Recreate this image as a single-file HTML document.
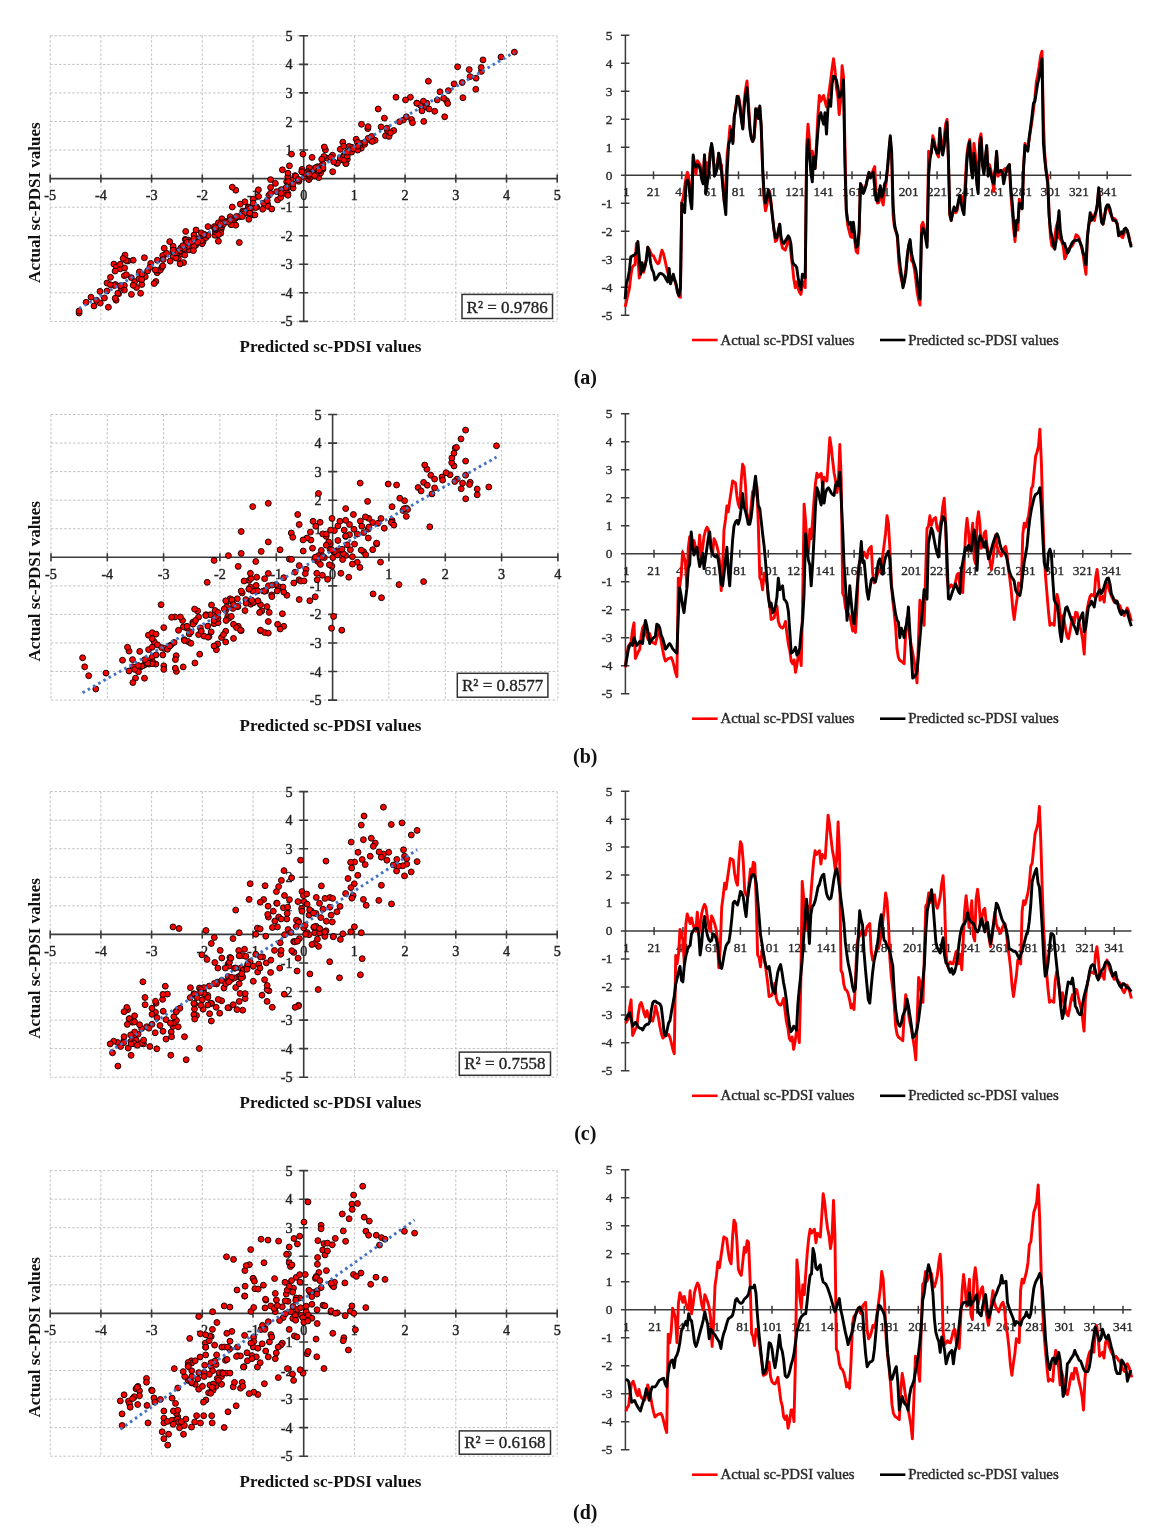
<!DOCTYPE html>
<html><head><meta charset="utf-8"><title>sc-PDSI figure</title>
<style>
html,body{margin:0;padding:0;background:#fff;}
body{width:1159px;height:1534px;overflow:hidden;}
svg{display:block;filter:blur(0.6px);}
text{font-family:'Liberation Serif','Times New Roman',serif;fill:#222;}
.tl{font-size:14.2px;stroke:#222;stroke-width:0.4px;}
.tr{font-size:13.3px;fill:#2a2a2a;stroke:#2a2a2a;stroke-width:0.35px;}
.r2{font-size:17px;stroke:#222;stroke-width:0.35px;}
.at{font-size:17px;font-weight:bold;fill:#111;}
.lg{font-size:14.8px;fill:#2a2a2a;stroke:#2a2a2a;stroke-width:0.4px;}
.pl{font-size:20px;font-weight:bold;fill:#111;}
</style></head><body>
<svg width="1159" height="1534" viewBox="0 0 1159 1534">
<rect width="1159" height="1534" fill="#fff"/>
<path d="M50.2 35.8V321.4M100.9 35.8V321.4M151.6 35.8V321.4M202.3 35.8V321.4M253.0 35.8V321.4M354.4 35.8V321.4M405.1 35.8V321.4M455.8 35.8V321.4M506.5 35.8V321.4M557.2 35.8V321.4M50.2 321.4H557.2M50.2 292.8H557.2M50.2 264.3H557.2M50.2 235.7H557.2M50.2 207.2H557.2M50.2 150.0H557.2M50.2 121.5H557.2M50.2 92.9H557.2M50.2 64.4H557.2M50.2 35.8H557.2" stroke="#c2c2c2" stroke-width="1" stroke-dasharray="2.5 1.9" fill="none"/>
<path d="M50.2 178.6H557.2M303.7 35.8V321.4M50.2 174.6V182.6M100.9 174.6V182.6M151.6 174.6V182.6M202.3 174.6V182.6M253.0 174.6V182.6M303.7 174.6V182.6M354.4 174.6V182.6M405.1 174.6V182.6M455.8 174.6V182.6M506.5 174.6V182.6M557.2 174.6V182.6M299.2 321.4H308.2M299.2 292.8H308.2M299.2 264.3H308.2M299.2 235.7H308.2M299.2 207.2H308.2M299.2 178.6H308.2M299.2 150.0H308.2M299.2 121.5H308.2M299.2 92.9H308.2M299.2 64.4H308.2M299.2 35.8H308.2" stroke="#3a3a3a" stroke-width="1.6" fill="none"/>
<text x="50.2" y="200.3" text-anchor="middle" class="tl">-5</text>
<text x="100.9" y="200.3" text-anchor="middle" class="tl">-4</text>
<text x="151.6" y="200.3" text-anchor="middle" class="tl">-3</text>
<text x="202.3" y="200.3" text-anchor="middle" class="tl">-2</text>
<text x="253.0" y="200.3" text-anchor="middle" class="tl">-1</text>
<text x="303.7" y="200.3" text-anchor="middle" class="tl">0</text>
<text x="354.4" y="200.3" text-anchor="middle" class="tl">1</text>
<text x="405.1" y="200.3" text-anchor="middle" class="tl">2</text>
<text x="455.8" y="200.3" text-anchor="middle" class="tl">3</text>
<text x="506.5" y="200.3" text-anchor="middle" class="tl">4</text>
<text x="557.2" y="200.3" text-anchor="middle" class="tl">5</text>
<text x="292.7" y="326.4" text-anchor="end" class="tl">-5</text>
<text x="292.7" y="297.8" text-anchor="end" class="tl">-4</text>
<text x="292.7" y="269.3" text-anchor="end" class="tl">-3</text>
<text x="292.7" y="240.7" text-anchor="end" class="tl">-2</text>
<text x="292.7" y="212.2" text-anchor="end" class="tl">-1</text>
<text x="292.7" y="155.0" text-anchor="end" class="tl">1</text>
<text x="292.7" y="126.5" text-anchor="end" class="tl">2</text>
<text x="292.7" y="97.9" text-anchor="end" class="tl">3</text>
<text x="292.7" y="69.4" text-anchor="end" class="tl">4</text>
<text x="292.7" y="40.8" text-anchor="end" class="tl">5</text>
<g fill="#ff0000" stroke="#100000" stroke-width="0.95"><circle cx="79.1" cy="313.0" r="2.95"/><circle cx="108.4" cy="307.2" r="2.95"/><circle cx="116.1" cy="300.2" r="2.95"/><circle cx="131.4" cy="294.4" r="2.95"/><circle cx="155.9" cy="281.5" r="2.95"/><circle cx="157.2" cy="272.7" r="2.95"/><circle cx="158.5" cy="270.7" r="2.95"/><circle cx="160.3" cy="270.0" r="2.95"/><circle cx="164.2" cy="248.2" r="2.95"/><circle cx="183.6" cy="262.6" r="2.95"/><circle cx="154.1" cy="283.5" r="2.95"/><circle cx="124.4" cy="275.7" r="2.95"/><circle cx="145.3" cy="276.7" r="2.95"/><circle cx="131.3" cy="277.6" r="2.95"/><circle cx="139.4" cy="271.9" r="2.95"/><circle cx="150.7" cy="263.4" r="2.95"/><circle cx="173.1" cy="252.1" r="2.95"/><circle cx="165.4" cy="254.3" r="2.95"/><circle cx="144.4" cy="257.7" r="2.95"/><circle cx="133.2" cy="260.2" r="2.95"/><circle cx="127.9" cy="260.9" r="2.95"/><circle cx="113.9" cy="264.1" r="2.95"/><circle cx="116.3" cy="267.0" r="2.95"/><circle cx="120.3" cy="268.8" r="2.95"/><circle cx="124.6" cy="268.0" r="2.95"/><circle cx="126.1" cy="260.4" r="2.95"/><circle cx="125.0" cy="255.1" r="2.95"/><circle cx="123.1" cy="258.5" r="2.95"/><circle cx="120.2" cy="264.3" r="2.95"/><circle cx="115.1" cy="271.1" r="2.95"/><circle cx="110.5" cy="277.3" r="2.95"/><circle cx="134.8" cy="281.6" r="2.95"/><circle cx="107.0" cy="283.0" r="2.95"/><circle cx="115.4" cy="284.5" r="2.95"/><circle cx="124.4" cy="285.5" r="2.95"/><circle cx="114.4" cy="285.5" r="2.95"/><circle cx="107.0" cy="291.0" r="2.95"/><circle cx="91.0" cy="297.2" r="2.95"/><circle cx="86.1" cy="302.3" r="2.95"/><circle cx="100.3" cy="303.1" r="2.95"/><circle cx="253.2" cy="206.2" r="2.95"/><circle cx="244.9" cy="201.8" r="2.95"/><circle cx="235.8" cy="190.2" r="2.95"/><circle cx="291.2" cy="180.0" r="2.95"/><circle cx="295.0" cy="175.6" r="2.95"/><circle cx="286.7" cy="181.8" r="2.95"/><circle cx="258.4" cy="189.8" r="2.95"/><circle cx="242.8" cy="211.0" r="2.95"/><circle cx="340.3" cy="160.0" r="2.95"/><circle cx="322.9" cy="169.2" r="2.95"/><circle cx="318.7" cy="177.6" r="2.95"/><circle cx="322.9" cy="163.9" r="2.95"/><circle cx="321.1" cy="165.8" r="2.95"/><circle cx="313.7" cy="168.7" r="2.95"/><circle cx="295.8" cy="176.2" r="2.95"/><circle cx="288.0" cy="183.5" r="2.95"/><circle cx="340.3" cy="158.0" r="2.95"/><circle cx="270.6" cy="179.6" r="2.95"/><circle cx="289.4" cy="165.8" r="2.95"/><circle cx="307.3" cy="171.7" r="2.95"/><circle cx="344.4" cy="155.0" r="2.95"/><circle cx="361.2" cy="148.2" r="2.95"/><circle cx="346.1" cy="163.5" r="2.95"/><circle cx="302.0" cy="169.4" r="2.95"/><circle cx="307.6" cy="171.7" r="2.95"/><circle cx="317.0" cy="166.9" r="2.95"/><circle cx="343.8" cy="156.0" r="2.95"/><circle cx="332.7" cy="171.7" r="2.95"/><circle cx="309.2" cy="167.8" r="2.95"/><circle cx="282.1" cy="189.9" r="2.95"/><circle cx="253.2" cy="207.0" r="2.95"/><circle cx="232.3" cy="187.2" r="2.95"/><circle cx="312.1" cy="157.4" r="2.95"/><circle cx="358.9" cy="145.3" r="2.95"/><circle cx="367.8" cy="128.6" r="2.95"/><circle cx="385.5" cy="135.7" r="2.95"/><circle cx="361.2" cy="144.3" r="2.95"/><circle cx="411.6" cy="119.5" r="2.95"/><circle cx="422.1" cy="109.4" r="2.95"/><circle cx="446.5" cy="100.6" r="2.95"/><circle cx="443.7" cy="98.2" r="2.95"/><circle cx="425.8" cy="106.6" r="2.95"/><circle cx="403.3" cy="120.1" r="2.95"/><circle cx="387.3" cy="130.5" r="2.95"/><circle cx="426.9" cy="103.3" r="2.95"/><circle cx="448.4" cy="90.6" r="2.95"/><circle cx="462.2" cy="82.5" r="2.95"/><circle cx="420.3" cy="105.1" r="2.95"/><circle cx="386.9" cy="128.2" r="2.95"/><circle cx="370.9" cy="140.2" r="2.95"/><circle cx="364.7" cy="144.3" r="2.95"/><circle cx="371.2" cy="140.5" r="2.95"/><circle cx="423.8" cy="121.4" r="2.95"/><circle cx="422.0" cy="110.8" r="2.95"/><circle cx="406.4" cy="116.8" r="2.95"/><circle cx="429.1" cy="109.0" r="2.95"/><circle cx="393.8" cy="130.5" r="2.95"/><circle cx="320.5" cy="173.1" r="2.95"/><circle cx="267.5" cy="203.8" r="2.95"/><circle cx="253.2" cy="214.9" r="2.95"/><circle cx="262.7" cy="209.2" r="2.95"/><circle cx="277.6" cy="199.9" r="2.95"/><circle cx="268.9" cy="195.3" r="2.95"/><circle cx="248.3" cy="207.0" r="2.95"/><circle cx="225.9" cy="221.5" r="2.95"/><circle cx="204.3" cy="234.4" r="2.95"/><circle cx="190.5" cy="246.3" r="2.95"/><circle cx="190.5" cy="244.8" r="2.95"/><circle cx="202.5" cy="237.9" r="2.95"/><circle cx="214.9" cy="228.6" r="2.95"/><circle cx="191.1" cy="246.5" r="2.95"/><circle cx="182.2" cy="252.9" r="2.95"/><circle cx="180.1" cy="254.0" r="2.95"/><circle cx="184.8" cy="255.1" r="2.95"/><circle cx="189.0" cy="249.9" r="2.95"/><circle cx="194.0" cy="242.3" r="2.95"/><circle cx="190.0" cy="245.8" r="2.95"/><circle cx="178.4" cy="258.5" r="2.95"/><circle cx="147.6" cy="270.9" r="2.95"/><circle cx="141.8" cy="284.5" r="2.95"/><circle cx="140.6" cy="293.3" r="2.95"/><circle cx="136.5" cy="287.5" r="2.95"/><circle cx="118.6" cy="293.8" r="2.95"/><circle cx="104.4" cy="298.0" r="2.95"/><circle cx="96.5" cy="300.2" r="2.95"/><circle cx="124.4" cy="290.1" r="2.95"/><circle cx="120.9" cy="287.5" r="2.95"/><circle cx="117.8" cy="293.3" r="2.95"/><circle cx="325.4" cy="149.9" r="2.95"/><circle cx="368.1" cy="126.6" r="2.95"/><circle cx="342.8" cy="142.2" r="2.95"/><circle cx="308.1" cy="171.7" r="2.95"/><circle cx="291.5" cy="154.1" r="2.95"/><circle cx="336.8" cy="163.4" r="2.95"/><circle cx="315.9" cy="171.7" r="2.95"/><circle cx="349.1" cy="146.4" r="2.95"/><circle cx="384.4" cy="118.1" r="2.95"/><circle cx="410.4" cy="97.2" r="2.95"/><circle cx="416.9" cy="103.1" r="2.95"/><circle cx="405.5" cy="99.9" r="2.95"/><circle cx="396.0" cy="97.2" r="2.95"/><circle cx="416.9" cy="103.2" r="2.95"/><circle cx="378.2" cy="109.0" r="2.95"/><circle cx="423.4" cy="101.2" r="2.95"/><circle cx="440.0" cy="91.8" r="2.95"/><circle cx="428.4" cy="81.2" r="2.95"/><circle cx="469.2" cy="69.6" r="2.95"/><circle cx="483.0" cy="59.9" r="2.95"/><circle cx="481.4" cy="71.4" r="2.95"/><circle cx="475.8" cy="89.3" r="2.95"/><circle cx="462.9" cy="97.7" r="2.95"/><circle cx="444.7" cy="116.8" r="2.95"/><circle cx="447.7" cy="103.5" r="2.95"/><circle cx="457.6" cy="66.8" r="2.95"/><circle cx="476.1" cy="78.2" r="2.95"/><circle cx="324.3" cy="147.0" r="2.95"/><circle cx="241.3" cy="215.2" r="2.95"/><circle cx="221.1" cy="229.5" r="2.95"/><circle cx="214.9" cy="235.3" r="2.95"/><circle cx="218.4" cy="241.2" r="2.95"/><circle cx="201.0" cy="242.2" r="2.95"/><circle cx="218.4" cy="234.5" r="2.95"/><circle cx="195.6" cy="245.4" r="2.95"/><circle cx="173.1" cy="256.5" r="2.95"/><circle cx="176.0" cy="258.0" r="2.95"/><circle cx="203.6" cy="237.8" r="2.95"/><circle cx="288.0" cy="187.4" r="2.95"/><circle cx="281.2" cy="189.7" r="2.95"/><circle cx="270.6" cy="193.3" r="2.95"/><circle cx="276.7" cy="191.6" r="2.95"/><circle cx="286.0" cy="187.8" r="2.95"/><circle cx="298.9" cy="181.3" r="2.95"/><circle cx="308.9" cy="175.6" r="2.95"/><circle cx="298.5" cy="179.6" r="2.95"/><circle cx="304.3" cy="177.4" r="2.95"/><circle cx="308.9" cy="173.2" r="2.95"/><circle cx="282.4" cy="169.8" r="2.95"/><circle cx="258.6" cy="196.4" r="2.95"/><circle cx="256.7" cy="207.0" r="2.95"/><circle cx="268.0" cy="206.4" r="2.95"/><circle cx="284.6" cy="193.3" r="2.95"/><circle cx="263.7" cy="203.2" r="2.95"/><circle cx="271.8" cy="209.0" r="2.95"/><circle cx="287.8" cy="193.5" r="2.95"/><circle cx="293.1" cy="188.0" r="2.95"/><circle cx="316.0" cy="174.4" r="2.95"/><circle cx="347.3" cy="159.2" r="2.95"/><circle cx="375.1" cy="140.3" r="2.95"/><circle cx="345.7" cy="163.5" r="2.95"/><circle cx="248.8" cy="219.3" r="2.95"/><circle cx="215.4" cy="231.8" r="2.95"/><circle cx="203.1" cy="236.0" r="2.95"/><circle cx="195.3" cy="242.6" r="2.95"/><circle cx="161.9" cy="267.2" r="2.95"/><circle cx="139.0" cy="278.8" r="2.95"/><circle cx="120.6" cy="285.6" r="2.95"/><circle cx="100.0" cy="291.4" r="2.95"/><circle cx="110.4" cy="284.7" r="2.95"/><circle cx="126.4" cy="274.7" r="2.95"/><circle cx="157.3" cy="260.3" r="2.95"/><circle cx="177.1" cy="250.9" r="2.95"/><circle cx="187.1" cy="246.3" r="2.95"/><circle cx="162.7" cy="265.9" r="2.95"/><circle cx="149.9" cy="267.3" r="2.95"/><circle cx="142.0" cy="274.3" r="2.95"/><circle cx="133.2" cy="285.3" r="2.95"/><circle cx="115.2" cy="298.3" r="2.95"/><circle cx="94.0" cy="306.0" r="2.95"/><circle cx="79.1" cy="311.0" r="2.95"/><circle cx="196.1" cy="230.0" r="2.95"/><circle cx="208.0" cy="226.6" r="2.95"/><circle cx="201.3" cy="232.9" r="2.95"/><circle cx="188.4" cy="240.1" r="2.95"/><circle cx="173.1" cy="246.3" r="2.95"/><circle cx="302.9" cy="154.1" r="2.95"/><circle cx="332.5" cy="155.2" r="2.95"/><circle cx="346.9" cy="156.0" r="2.95"/><circle cx="368.1" cy="138.4" r="2.95"/><circle cx="359.8" cy="143.1" r="2.95"/><circle cx="350.3" cy="150.5" r="2.95"/><circle cx="343.8" cy="157.1" r="2.95"/><circle cx="344.2" cy="160.0" r="2.95"/><circle cx="389.0" cy="136.4" r="2.95"/><circle cx="351.6" cy="152.1" r="2.95"/><circle cx="340.3" cy="149.3" r="2.95"/><circle cx="356.2" cy="139.2" r="2.95"/><circle cx="381.1" cy="126.9" r="2.95"/><circle cx="399.5" cy="121.7" r="2.95"/><circle cx="337.3" cy="163.2" r="2.95"/><circle cx="234.3" cy="219.4" r="2.95"/><circle cx="221.9" cy="224.7" r="2.95"/><circle cx="236.1" cy="217.8" r="2.95"/><circle cx="246.3" cy="212.9" r="2.95"/><circle cx="239.3" cy="216.8" r="2.95"/><circle cx="242.1" cy="215.3" r="2.95"/><circle cx="255.7" cy="207.6" r="2.95"/><circle cx="267.2" cy="200.6" r="2.95"/><circle cx="253.1" cy="199.2" r="2.95"/><circle cx="240.3" cy="204.1" r="2.95"/><circle cx="232.3" cy="207.0" r="2.95"/><circle cx="275.4" cy="183.4" r="2.95"/><circle cx="326.7" cy="158.0" r="2.95"/><circle cx="351.8" cy="147.3" r="2.95"/><circle cx="364.7" cy="142.3" r="2.95"/><circle cx="317.5" cy="167.0" r="2.95"/><circle cx="298.5" cy="179.6" r="2.95"/><circle cx="343.8" cy="146.2" r="2.95"/><circle cx="323.9" cy="156.5" r="2.95"/><circle cx="287.8" cy="176.7" r="2.95"/><circle cx="270.6" cy="187.4" r="2.95"/><circle cx="357.4" cy="142.4" r="2.95"/><circle cx="371.6" cy="136.4" r="2.95"/><circle cx="321.7" cy="159.2" r="2.95"/><circle cx="305.5" cy="175.6" r="2.95"/><circle cx="333.7" cy="161.8" r="2.95"/><circle cx="357.7" cy="150.1" r="2.95"/><circle cx="302.0" cy="171.7" r="2.95"/><circle cx="315.9" cy="167.8" r="2.95"/><circle cx="305.6" cy="173.6" r="2.95"/><circle cx="293.0" cy="184.0" r="2.95"/><circle cx="288.0" cy="195.3" r="2.95"/><circle cx="313.2" cy="174.0" r="2.95"/><circle cx="347.2" cy="156.0" r="2.95"/><circle cx="308.9" cy="179.6" r="2.95"/><circle cx="310.4" cy="177.1" r="2.95"/><circle cx="312.4" cy="173.7" r="2.95"/><circle cx="309.3" cy="175.6" r="2.95"/><circle cx="288.0" cy="173.2" r="2.95"/><circle cx="301.8" cy="171.7" r="2.95"/><circle cx="314.5" cy="175.6" r="2.95"/><circle cx="319.7" cy="170.6" r="2.95"/><circle cx="322.9" cy="167.8" r="2.95"/><circle cx="280.6" cy="197.6" r="2.95"/><circle cx="254.9" cy="214.9" r="2.95"/><circle cx="220.7" cy="233.2" r="2.95"/><circle cx="194.0" cy="246.3" r="2.95"/><circle cx="221.9" cy="226.6" r="2.95"/><circle cx="218.4" cy="234.5" r="2.95"/><circle cx="253.2" cy="203.1" r="2.95"/><circle cx="248.3" cy="207.8" r="2.95"/><circle cx="242.8" cy="212.9" r="2.95"/><circle cx="318.9" cy="170.1" r="2.95"/><circle cx="357.7" cy="146.2" r="2.95"/><circle cx="353.2" cy="148.7" r="2.95"/><circle cx="347.2" cy="152.1" r="2.95"/><circle cx="372.3" cy="141.5" r="2.95"/><circle cx="390.6" cy="132.8" r="2.95"/><circle cx="412.5" cy="122.7" r="2.95"/><circle cx="434.7" cy="111.3" r="2.95"/><circle cx="437.3" cy="99.9" r="2.95"/><circle cx="454.1" cy="83.9" r="2.95"/><circle cx="470.1" cy="76.6" r="2.95"/><circle cx="481.2" cy="67.5" r="2.95"/><circle cx="501.0" cy="57.0" r="2.95"/><circle cx="514.4" cy="52.1" r="2.95"/><circle cx="361.5" cy="124.3" r="2.95"/><circle cx="330.8" cy="157.3" r="2.95"/><circle cx="309.0" cy="174.2" r="2.95"/><circle cx="288.5" cy="181.4" r="2.95"/><circle cx="230.2" cy="216.8" r="2.95"/><circle cx="203.1" cy="241.7" r="2.95"/><circle cx="193.4" cy="250.6" r="2.95"/><circle cx="178.0" cy="252.1" r="2.95"/><circle cx="169.7" cy="241.6" r="2.95"/><circle cx="185.7" cy="231.4" r="2.95"/><circle cx="214.3" cy="226.6" r="2.95"/><circle cx="239.3" cy="242.5" r="2.95"/><circle cx="202.1" cy="243.7" r="2.95"/><circle cx="187.5" cy="246.4" r="2.95"/><circle cx="180.1" cy="251.3" r="2.95"/><circle cx="180.1" cy="263.9" r="2.95"/><circle cx="170.2" cy="261.1" r="2.95"/><circle cx="162.7" cy="255.6" r="2.95"/><circle cx="166.6" cy="253.3" r="2.95"/><circle cx="174.3" cy="252.2" r="2.95"/><circle cx="180.2" cy="251.0" r="2.95"/><circle cx="184.0" cy="248.8" r="2.95"/><circle cx="185.2" cy="244.9" r="2.95"/><circle cx="185.3" cy="239.4" r="2.95"/><circle cx="186.0" cy="240.1" r="2.95"/><circle cx="187.1" cy="242.2" r="2.95"/><circle cx="180.9" cy="247.9" r="2.95"/><circle cx="175.0" cy="252.9" r="2.95"/><circle cx="163.2" cy="259.5" r="2.95"/><circle cx="155.3" cy="270.0" r="2.95"/><circle cx="141.8" cy="279.6" r="2.95"/><circle cx="191.6" cy="241.7" r="2.95"/><circle cx="215.5" cy="229.6" r="2.95"/><circle cx="235.8" cy="225.2" r="2.95"/><circle cx="221.9" cy="218.8" r="2.95"/><circle cx="225.9" cy="222.2" r="2.95"/><circle cx="231.1" cy="224.7" r="2.95"/><circle cx="236.6" cy="216.4" r="2.95"/><circle cx="250.9" cy="208.6" r="2.95"/><circle cx="281.1" cy="193.3" r="2.95"/><circle cx="243.9" cy="212.0" r="2.95"/><circle cx="218.4" cy="222.8" r="2.95"/><circle cx="214.9" cy="228.6" r="2.95"/><circle cx="228.3" cy="222.0" r="2.95"/><circle cx="244.3" cy="213.6" r="2.95"/><circle cx="249.4" cy="209.0" r="2.95"/><circle cx="249.7" cy="213.1" r="2.95"/><circle cx="242.3" cy="216.6" r="2.95"/><circle cx="230.6" cy="219.8" r="2.95"/><circle cx="222.9" cy="224.7" r="2.95"/><circle cx="221.9" cy="222.7" r="2.95"/><circle cx="220.6" cy="224.2" r="2.95"/><circle cx="215.6" cy="227.8" r="2.95"/><circle cx="194.0" cy="235.0" r="2.95"/><circle cx="198.1" cy="238.8" r="2.95"/><circle cx="201.0" cy="241.0" r="2.95"/><circle cx="197.5" cy="242.3" r="2.95"/><circle cx="205.9" cy="237.6" r="2.95"/><circle cx="208.0" cy="235.4" r="2.95"/><circle cx="204.1" cy="234.5" r="2.95"/><circle cx="193.8" cy="238.6" r="2.95"/><circle cx="182.8" cy="245.8" r="2.95"/><circle cx="173.1" cy="250.2" r="2.95"/></g>
<line x1="79.1" y1="308.6" x2="514.4" y2="52.3" stroke="#4472c4" stroke-width="2.9" stroke-dasharray="2.6 3.4" stroke-linecap="butt"/>
<rect x="462.0" y="294.4" width="90.5" height="24.1" fill="#fff" stroke="#333" stroke-width="1.5"/>
<text x="507.2" y="312.5" text-anchor="middle" class="r2">R² = 0.9786</text>
<text x="330.5" y="352.1" text-anchor="middle" class="at">Predicted sc-PDSI values</text>
<text transform="translate(40.2 202.6) rotate(-90)" text-anchor="middle" class="at">Actual sc-PDSI values</text>
<path d="M625.4 35.2V315.2M625.4 175.2H1131.5M620.9 315.2H629.4M620.9 287.2H629.4M620.9 259.2H629.4M620.9 231.2H629.4M620.9 203.2H629.4M620.9 175.2H629.4M620.9 147.2H629.4M620.9 119.2H629.4M620.9 91.2H629.4M620.9 63.2H629.4M620.9 35.2H629.4M653.5 171.2V179.2M681.8 171.2V179.2M710.2 171.2V179.2M738.5 171.2V179.2M766.9 171.2V179.2M795.3 171.2V179.2M823.6 171.2V179.2M852.0 171.2V179.2M880.3 171.2V179.2M908.7 171.2V179.2M937.1 171.2V179.2M965.4 171.2V179.2M993.8 171.2V179.2M1022.1 171.2V179.2M1050.5 171.2V179.2M1078.9 171.2V179.2M1107.2 171.2V179.2" stroke="#3a3a3a" stroke-width="1.5" fill="none"/>
<text x="612.5" y="319.5" text-anchor="end" class="tr">-5</text>
<text x="612.5" y="291.5" text-anchor="end" class="tr">-4</text>
<text x="612.5" y="263.5" text-anchor="end" class="tr">-3</text>
<text x="612.5" y="235.5" text-anchor="end" class="tr">-2</text>
<text x="612.5" y="207.5" text-anchor="end" class="tr">-1</text>
<text x="612.5" y="179.5" text-anchor="end" class="tr">0</text>
<text x="612.5" y="151.5" text-anchor="end" class="tr">1</text>
<text x="612.5" y="123.5" text-anchor="end" class="tr">2</text>
<text x="612.5" y="95.5" text-anchor="end" class="tr">3</text>
<text x="612.5" y="67.5" text-anchor="end" class="tr">4</text>
<text x="612.5" y="39.5" text-anchor="end" class="tr">5</text>
<text x="626.4" y="196.0" text-anchor="middle" class="tr">1</text>
<text x="653.5" y="196.0" text-anchor="middle" class="tr">21</text>
<text x="681.8" y="196.0" text-anchor="middle" class="tr">41</text>
<text x="710.2" y="196.0" text-anchor="middle" class="tr">61</text>
<text x="738.5" y="196.0" text-anchor="middle" class="tr">81</text>
<text x="766.9" y="196.0" text-anchor="middle" class="tr">101</text>
<text x="795.3" y="196.0" text-anchor="middle" class="tr">121</text>
<text x="823.6" y="196.0" text-anchor="middle" class="tr">141</text>
<text x="852.0" y="196.0" text-anchor="middle" class="tr">161</text>
<text x="880.3" y="196.0" text-anchor="middle" class="tr">181</text>
<text x="908.7" y="196.0" text-anchor="middle" class="tr">201</text>
<text x="937.1" y="196.0" text-anchor="middle" class="tr">221</text>
<text x="965.4" y="196.0" text-anchor="middle" class="tr">241</text>
<text x="993.8" y="196.0" text-anchor="middle" class="tr">261</text>
<text x="1022.1" y="196.0" text-anchor="middle" class="tr">281</text>
<text x="1050.5" y="196.0" text-anchor="middle" class="tr">301</text>
<text x="1078.9" y="196.0" text-anchor="middle" class="tr">321</text>
<text x="1107.2" y="196.0" text-anchor="middle" class="tr">341</text>
<polyline points="625.1,306.9 626.5,301.3 627.9,294.4 629.4,288.7 630.8,276.1 632.2,267.5 633.6,265.5 635.0,264.8 636.4,243.5 637.9,257.5 639.3,278.1 640.7,270.4 642.1,271.3 643.5,272.3 645.0,266.7 646.4,258.3 647.8,247.3 649.2,249.4 650.6,252.8 652.0,255.2 653.5,255.9 654.9,259.0 656.3,261.8 657.7,263.7 659.1,262.8 660.6,255.4 662.0,250.2 663.4,253.5 664.8,259.2 666.2,265.9 667.6,272.0 669.1,276.2 670.5,277.6 671.9,279.0 673.3,280.0 674.7,280.0 676.1,285.4 677.6,291.5 679.0,296.5 680.4,297.3 681.8,202.2 683.2,198.0 684.7,186.6 686.1,176.6 687.5,172.3 688.9,178.4 690.3,186.2 691.7,206.9 693.2,156.9 694.6,166.0 696.0,174.2 697.4,160.8 698.8,162.7 700.3,165.5 701.7,172.9 703.1,180.0 704.5,155.0 705.9,176.2 707.3,162.7 708.8,168.5 710.2,152.0 711.6,145.4 713.0,160.4 714.4,166.2 715.9,168.5 717.3,163.7 718.7,153.1 720.1,168.5 721.5,164.6 722.9,186.3 724.4,203.1 725.8,183.7 727.2,154.4 728.6,142.5 730.0,126.2 731.5,133.1 732.9,141.5 734.3,117.2 735.7,107.4 737.1,98.7 738.5,96.3 740.0,104.6 741.4,117.8 742.8,128.1 744.2,101.4 745.6,88.9 747.0,81.0 748.5,103.1 749.9,125.8 751.3,137.5 752.7,141.5 754.1,137.9 755.6,119.1 757.0,108.7 758.4,114.6 759.8,106.9 761.2,128.0 762.6,169.8 764.1,199.9 765.5,210.8 766.9,205.2 768.3,196.1 769.7,191.5 771.2,203.1 772.6,217.3 774.0,229.9 775.4,241.5 776.8,240.1 778.2,233.4 779.7,224.2 781.1,241.8 782.5,248.0 783.9,249.1 785.3,250.2 786.8,245.1 788.2,237.7 789.6,241.1 791.0,253.5 792.4,265.7 793.8,279.0 795.3,287.7 796.7,281.9 798.1,288.2 799.5,292.2 800.9,294.4 802.4,284.5 803.8,281.9 805.2,287.7 806.6,147.1 808.0,124.2 809.4,139.6 810.9,168.5 812.3,151.2 813.7,160.3 815.1,168.5 816.5,143.7 817.9,115.9 819.4,95.4 820.8,101.2 822.2,98.0 823.6,95.4 825.0,101.3 826.5,106.9 827.9,99.3 829.3,90.1 830.7,79.7 832.1,68.4 833.5,58.8 835.0,70.1 836.4,87.7 837.8,95.9 839.2,114.6 840.6,101.6 842.1,65.6 843.5,76.8 844.9,144.2 846.3,211.1 847.7,225.1 849.1,230.8 850.6,236.6 852.0,237.5 853.4,230.0 854.8,240.7 856.2,251.5 857.7,253.1 859.1,233.2 860.5,183.8 861.9,186.1 863.3,189.6 864.7,188.0 866.2,184.2 867.6,177.8 869.0,172.3 870.4,176.2 871.8,174.0 873.2,169.9 874.7,166.5 876.1,192.6 877.5,203.1 878.9,202.4 880.3,189.6 881.8,199.3 883.2,205.0 884.6,189.8 886.0,184.4 887.4,171.1 888.8,156.1 890.3,137.7 891.7,160.4 893.1,215.1 894.5,227.3 895.9,231.5 897.4,237.9 898.8,262.0 900.2,273.5 901.6,280.1 903.0,285.8 904.4,279.2 905.9,269.4 907.3,255.3 908.7,246.1 910.1,241.5 911.5,260.7 913.0,262.2 914.4,269.1 915.8,279.8 917.2,292.6 918.6,300.1 920.0,305.0 921.5,225.6 922.9,222.3 924.3,228.4 925.7,235.5 927.1,241.5 928.6,151.2 930.0,152.3 931.4,153.1 932.8,135.8 934.2,140.4 935.6,147.7 937.1,154.1 938.5,156.9 939.9,133.8 941.3,149.2 942.7,146.5 944.2,136.6 945.6,124.5 947.0,119.4 948.4,160.1 949.8,215.2 951.2,220.4 952.7,213.7 954.1,208.8 955.5,212.7 956.9,211.2 958.3,203.6 959.7,196.8 961.2,195.4 962.6,200.2 964.0,203.1 965.4,179.9 966.8,155.0 968.3,144.5 969.7,139.6 971.1,163.8 972.5,176.2 973.9,143.5 975.3,153.5 976.8,173.3 978.2,183.8 979.6,139.7 981.0,133.8 982.4,156.2 983.9,172.3 985.3,158.8 986.7,147.3 988.1,168.5 989.5,164.6 990.9,170.3 992.4,180.5 993.8,191.5 995.2,170.7 996.6,153.1 998.0,176.2 999.5,173.8 1000.9,170.4 1002.3,172.3 1003.7,169.9 1005.1,168.5 1006.5,172.3 1008.0,167.3 1009.4,164.6 1010.8,193.8 1012.2,210.8 1013.6,228.8 1015.0,241.5 1016.5,222.3 1017.9,230.0 1019.3,199.2 1020.7,203.8 1022.1,208.8 1023.6,166.8 1025.0,143.5 1026.4,145.9 1027.8,149.2 1029.2,138.9 1030.6,130.3 1032.1,120.4 1033.5,109.2 1034.9,98.0 1036.3,82.4 1037.7,75.2 1039.2,66.2 1040.6,56.0 1042.0,51.2 1043.4,121.9 1044.8,154.3 1046.2,170.8 1047.7,177.9 1049.1,212.7 1050.5,237.1 1051.9,245.8 1053.3,247.3 1054.8,237.0 1056.2,227.0 1057.6,222.3 1059.0,237.8 1060.4,239.0 1061.8,241.7 1063.3,246.5 1064.7,258.8 1066.1,256.1 1067.5,250.6 1068.9,248.4 1070.4,247.3 1071.8,246.2 1073.2,244.0 1074.6,240.2 1076.0,234.8 1077.4,235.5 1078.9,237.6 1080.3,243.1 1081.7,248.0 1083.1,254.5 1084.5,264.8 1086.0,274.2 1087.4,237.1 1088.8,225.2 1090.2,220.9 1091.6,214.6 1093.0,218.0 1094.5,220.4 1095.9,212.2 1097.3,204.6 1098.7,189.6 1100.1,207.9 1101.5,218.5 1103.0,224.2 1104.4,217.8 1105.8,209.5 1107.2,205.0 1108.6,209.0 1110.1,212.4 1111.5,215.6 1112.9,220.4 1114.3,218.5 1115.7,219.9 1117.1,223.4 1118.6,230.5 1120.0,234.2 1121.4,236.4 1122.8,237.7 1124.2,233.1 1125.7,230.9 1127.1,230.0 1128.5,234.0 1129.9,241.1 1131.3,245.4" fill="none" stroke="#ff0000" stroke-width="2.9" stroke-linejoin="round"/>
<polyline points="625.1,299.2 626.5,283.0 627.9,278.8 629.4,270.4 630.8,256.8 632.2,256.1 633.6,255.4 635.0,254.4 636.4,252.2 637.9,241.5 639.3,257.8 640.7,274.2 642.1,262.7 643.5,270.4 645.0,265.9 646.4,259.7 647.8,247.3 649.2,251.6 650.6,263.2 652.0,269.3 653.5,272.3 654.9,280.0 656.3,278.7 657.7,276.5 659.1,274.1 660.6,273.3 662.0,273.9 663.4,274.9 664.8,276.5 666.2,279.4 667.6,281.9 669.1,268.5 670.5,283.8 671.9,279.2 673.3,274.2 674.7,279.8 676.1,283.8 677.6,292.7 679.0,295.4 680.4,287.5 681.8,203.1 683.2,207.7 684.7,212.7 686.1,182.1 687.5,180.0 688.9,184.6 690.3,200.2 691.7,208.8 693.2,155.0 694.6,164.6 696.0,166.9 697.4,164.6 698.8,165.6 700.3,169.7 701.7,179.6 703.1,183.8 704.5,155.0 705.9,193.5 707.3,183.1 708.8,173.2 710.2,152.7 711.6,143.5 713.0,151.8 714.4,176.2 715.9,173.1 717.3,167.8 718.7,153.1 720.1,159.2 721.5,172.2 722.9,187.1 724.4,203.1 725.8,214.6 727.2,170.6 728.6,144.7 730.0,139.8 731.5,130.0 732.9,143.5 734.3,115.6 735.7,109.8 737.1,96.3 738.5,97.9 740.0,107.8 741.4,120.2 742.8,129.0 744.2,107.1 745.6,95.3 747.0,87.7 748.5,110.8 749.9,129.3 751.3,138.1 752.7,141.5 754.1,137.9 755.6,108.8 757.0,109.9 758.4,118.5 759.8,106.0 761.2,125.5 762.6,165.9 764.1,195.2 765.5,203.1 766.9,197.9 768.3,189.6 769.7,194.4 771.2,205.8 772.6,218.1 774.0,230.1 775.4,237.7 776.8,237.7 778.2,231.1 779.7,224.2 781.1,237.4 782.5,242.3 783.9,243.5 785.3,240.9 786.8,238.6 788.2,235.8 789.6,238.0 791.0,244.4 792.4,261.4 793.8,264.6 795.3,265.3 796.7,267.5 798.1,277.4 799.5,285.3 800.9,289.6 802.4,274.2 803.8,276.2 805.2,277.9 806.6,163.2 808.0,139.6 809.4,153.6 810.9,172.8 812.3,181.9 813.7,156.9 815.1,168.5 816.5,150.1 817.9,130.6 819.4,116.3 820.8,112.7 822.2,119.0 823.6,124.2 825.0,112.7 826.5,134.1 827.9,109.1 829.3,99.9 830.7,106.3 832.1,83.8 833.5,76.2 835.0,77.1 836.4,80.2 837.8,87.3 839.2,97.3 840.6,95.7 842.1,90.2 843.5,80.0 844.9,163.8 846.3,209.7 847.7,220.8 849.1,224.2 850.6,222.3 852.0,231.9 853.4,222.3 854.8,234.9 856.2,247.3 857.7,245.7 859.1,230.5 860.5,183.8 861.9,187.6 863.3,193.5 864.7,190.1 866.2,185.0 867.6,177.8 869.0,172.3 870.4,178.1 871.8,174.9 873.2,172.3 874.7,186.9 876.1,200.1 877.5,201.2 878.9,194.9 880.3,185.8 881.8,197.3 883.2,192.8 884.6,184.0 886.0,181.1 887.4,168.4 888.8,151.1 890.3,135.8 891.7,152.0 893.1,205.5 894.5,223.9 895.9,230.7 897.4,235.1 898.8,253.5 900.2,266.2 901.6,276.3 903.0,287.7 904.4,281.9 905.9,273.1 907.3,256.1 908.7,245.1 910.1,239.6 911.5,253.1 913.0,260.2 914.4,264.5 915.8,269.4 917.2,279.3 918.6,291.0 920.0,299.2 921.5,234.6 922.9,228.1 924.3,231.7 925.7,238.9 927.1,247.3 928.6,175.6 930.0,159.3 931.4,151.4 932.8,139.6 934.2,144.2 935.6,149.5 937.1,153.1 938.5,152.8 939.9,128.1 941.3,148.7 942.7,155.0 944.2,146.2 945.6,132.5 947.0,122.3 948.4,156.7 949.8,213.5 951.2,220.4 952.7,212.5 954.1,206.9 955.5,210.8 956.9,209.2 958.3,201.7 959.7,195.4 961.2,203.1 962.6,210.2 964.0,214.6 965.4,190.8 966.8,162.5 968.3,148.6 969.7,141.5 971.1,167.6 972.5,178.1 973.9,153.1 975.3,164.0 976.8,184.0 978.2,193.5 979.6,145.5 981.0,137.7 982.4,165.3 983.9,174.2 985.3,158.6 986.7,145.4 988.1,176.2 989.5,168.5 990.9,174.1 992.4,181.1 993.8,183.8 995.2,170.0 996.6,151.2 998.0,172.3 999.5,171.5 1000.9,170.4 1002.3,172.1 1003.7,183.8 1005.1,176.2 1006.5,169.2 1008.0,166.4 1009.4,164.6 1010.8,188.0 1012.2,202.1 1013.6,221.0 1015.0,235.8 1016.5,220.4 1017.9,222.3 1019.3,203.1 1020.7,205.8 1022.1,208.8 1023.6,166.8 1025.0,145.4 1026.4,147.8 1027.8,151.2 1029.2,137.3 1030.6,127.2 1032.1,115.1 1033.5,102.9 1034.9,101.4 1036.3,92.1 1037.7,83.3 1039.2,77.2 1040.6,66.3 1042.0,58.8 1043.4,143.3 1044.8,160.2 1046.2,172.3 1047.7,183.6 1049.1,215.8 1050.5,230.7 1051.9,236.1 1053.3,244.6 1054.8,249.2 1056.2,240.4 1057.6,224.6 1059.0,210.8 1060.4,231.3 1061.8,239.4 1063.3,243.5 1064.7,243.5 1066.1,249.0 1067.5,253.1 1068.9,250.9 1070.4,246.6 1071.8,243.4 1073.2,241.3 1074.6,240.7 1076.0,240.6 1077.4,240.2 1078.9,239.6 1080.3,243.0 1081.7,246.3 1083.1,252.8 1084.5,257.2 1086.0,264.6 1087.4,237.1 1088.8,223.9 1090.2,212.7 1091.6,220.4 1093.0,218.2 1094.5,215.3 1095.9,212.2 1097.3,204.4 1098.7,187.7 1100.1,208.2 1101.5,222.3 1103.0,224.2 1104.4,216.9 1105.8,208.0 1107.2,205.2 1108.6,205.0 1110.1,209.1 1111.5,215.6 1112.9,219.8 1114.3,220.4 1115.7,221.1 1117.1,223.9 1118.6,235.8 1120.0,233.5 1121.4,231.9 1122.8,233.8 1124.2,229.2 1125.7,228.1 1127.1,230.2 1128.5,235.9 1129.9,242.0 1131.3,247.3" fill="none" stroke="#000" stroke-width="2.9" stroke-linejoin="round"/>
<line x1="692" y1="340.0" x2="717.6" y2="340.0" stroke="#ff0000" stroke-width="2.6"/>
<text x="720.6" y="344.6" class="lg">Actual sc-PDSI values</text>
<line x1="880" y1="340.0" x2="905.4" y2="340.0" stroke="#000" stroke-width="2.6"/>
<text x="908.3" y="344.6" class="lg">Predicted sc-PDSI values</text>
<text x="585.3" y="383.8" text-anchor="middle" class="pl">(a)</text>
<path d="M51.0 414.5V700.1M107.3 414.5V700.1M163.6 414.5V700.1M219.9 414.5V700.1M276.3 414.5V700.1M388.9 414.5V700.1M445.3 414.5V700.1M501.6 414.5V700.1M557.9 414.5V700.1M51.0 700.1H557.9M51.0 671.5H557.9M51.0 643.0H557.9M51.0 614.4H557.9M51.0 585.9H557.9M51.0 528.7H557.9M51.0 500.2H557.9M51.0 471.6H557.9M51.0 443.1H557.9M51.0 414.5H557.9" stroke="#c2c2c2" stroke-width="1" stroke-dasharray="2.5 1.9" fill="none"/>
<path d="M51.0 557.3H557.9M332.6 414.5V700.1M51.0 553.3V561.3M107.3 553.3V561.3M163.6 553.3V561.3M219.9 553.3V561.3M276.3 553.3V561.3M332.6 553.3V561.3M388.9 553.3V561.3M445.3 553.3V561.3M501.6 553.3V561.3M557.9 553.3V561.3M328.1 700.1H337.1M328.1 671.5H337.1M328.1 643.0H337.1M328.1 614.4H337.1M328.1 585.9H337.1M328.1 557.3H337.1M328.1 528.7H337.1M328.1 500.2H337.1M328.1 471.6H337.1M328.1 443.1H337.1M328.1 414.5H337.1" stroke="#3a3a3a" stroke-width="1.6" fill="none"/>
<text x="51.0" y="579.0" text-anchor="middle" class="tl">-5</text>
<text x="107.3" y="579.0" text-anchor="middle" class="tl">-4</text>
<text x="163.6" y="579.0" text-anchor="middle" class="tl">-3</text>
<text x="219.9" y="579.0" text-anchor="middle" class="tl">-2</text>
<text x="276.3" y="579.0" text-anchor="middle" class="tl">-1</text>
<text x="332.6" y="579.0" text-anchor="middle" class="tl">0</text>
<text x="388.9" y="579.0" text-anchor="middle" class="tl">1</text>
<text x="445.3" y="579.0" text-anchor="middle" class="tl">2</text>
<text x="501.6" y="579.0" text-anchor="middle" class="tl">3</text>
<text x="557.9" y="579.0" text-anchor="middle" class="tl">4</text>
<text x="321.6" y="705.1" text-anchor="end" class="tl">-5</text>
<text x="321.6" y="676.5" text-anchor="end" class="tl">-4</text>
<text x="321.6" y="648.0" text-anchor="end" class="tl">-3</text>
<text x="321.6" y="619.4" text-anchor="end" class="tl">-2</text>
<text x="321.6" y="590.9" text-anchor="end" class="tl">-1</text>
<text x="321.6" y="533.7" text-anchor="end" class="tl">1</text>
<text x="321.6" y="505.2" text-anchor="end" class="tl">2</text>
<text x="321.6" y="476.6" text-anchor="end" class="tl">3</text>
<text x="321.6" y="448.1" text-anchor="end" class="tl">4</text>
<text x="321.6" y="419.5" text-anchor="end" class="tl">5</text>
<g fill="#ff0000" stroke="#100000" stroke-width="0.95"><circle cx="106.0" cy="673.1" r="2.95"/><circle cx="122.5" cy="660.2" r="2.95"/><circle cx="139.7" cy="651.4" r="2.95"/><circle cx="148.6" cy="649.6" r="2.95"/><circle cx="152.2" cy="647.2" r="2.95"/><circle cx="148.4" cy="635.2" r="2.95"/><circle cx="163.8" cy="627.6" r="2.95"/><circle cx="155.9" cy="664.1" r="2.95"/><circle cx="148.4" cy="660.8" r="2.95"/><circle cx="152.2" cy="657.1" r="2.95"/><circle cx="156.1" cy="654.9" r="2.95"/><circle cx="154.2" cy="641.8" r="2.95"/><circle cx="152.2" cy="632.7" r="2.95"/><circle cx="178.5" cy="630.3" r="2.95"/><circle cx="198.6" cy="634.6" r="2.95"/><circle cx="188.0" cy="641.5" r="2.95"/><circle cx="170.8" cy="645.1" r="2.95"/><circle cx="152.2" cy="638.7" r="2.95"/><circle cx="157.5" cy="644.8" r="2.95"/><circle cx="161.6" cy="647.6" r="2.95"/><circle cx="164.5" cy="648.4" r="2.95"/><circle cx="167.4" cy="649.3" r="2.95"/><circle cx="190.9" cy="643.3" r="2.95"/><circle cx="189.3" cy="634.0" r="2.95"/><circle cx="184.2" cy="639.6" r="2.95"/><circle cx="169.8" cy="646.1" r="2.95"/><circle cx="162.8" cy="654.9" r="2.95"/><circle cx="152.7" cy="662.0" r="2.95"/><circle cx="140.6" cy="666.8" r="2.95"/><circle cx="144.0" cy="665.3" r="2.95"/><circle cx="149.2" cy="664.1" r="2.95"/><circle cx="152.2" cy="663.7" r="2.95"/><circle cx="147.6" cy="663.1" r="2.95"/><circle cx="141.9" cy="666.1" r="2.95"/><circle cx="138.4" cy="671.7" r="2.95"/><circle cx="135.5" cy="678.1" r="2.95"/><circle cx="132.9" cy="682.6" r="2.95"/><circle cx="207.2" cy="582.3" r="2.95"/><circle cx="264.4" cy="591.0" r="2.95"/><circle cx="249.0" cy="580.4" r="2.95"/><circle cx="228.4" cy="555.6" r="2.95"/><circle cx="214.1" cy="560.4" r="2.95"/><circle cx="238.2" cy="566.4" r="2.95"/><circle cx="263.4" cy="591.0" r="2.95"/><circle cx="303.2" cy="551.0" r="2.95"/><circle cx="310.9" cy="540.0" r="2.95"/><circle cx="376.6" cy="544.0" r="2.95"/><circle cx="350.4" cy="549.8" r="2.95"/><circle cx="330.2" cy="543.9" r="2.95"/><circle cx="336.8" cy="550.7" r="2.95"/><circle cx="345.7" cy="555.5" r="2.95"/><circle cx="324.4" cy="557.6" r="2.95"/><circle cx="307.0" cy="538.0" r="2.95"/><circle cx="317.9" cy="561.5" r="2.95"/><circle cx="334.1" cy="551.8" r="2.95"/><circle cx="303.1" cy="539.9" r="2.95"/><circle cx="322.7" cy="533.9" r="2.95"/><circle cx="344.2" cy="530.1" r="2.95"/><circle cx="363.8" cy="532.6" r="2.95"/><circle cx="376.6" cy="543.1" r="2.95"/><circle cx="341.6" cy="552.4" r="2.95"/><circle cx="332.9" cy="557.6" r="2.95"/><circle cx="328.7" cy="541.9" r="2.95"/><circle cx="326.3" cy="545.2" r="2.95"/><circle cx="330.2" cy="549.4" r="2.95"/><circle cx="320.6" cy="555.3" r="2.95"/><circle cx="299.2" cy="565.6" r="2.95"/><circle cx="271.7" cy="594.9" r="2.95"/><circle cx="268.3" cy="573.4" r="2.95"/><circle cx="291.3" cy="533.0" r="2.95"/><circle cx="320.1" cy="522.3" r="2.95"/><circle cx="345.7" cy="508.6" r="2.95"/><circle cx="297.7" cy="514.5" r="2.95"/><circle cx="268.3" cy="503.3" r="2.95"/><circle cx="318.5" cy="493.5" r="2.95"/><circle cx="360.2" cy="483.1" r="2.95"/><circle cx="388.2" cy="484.0" r="2.95"/><circle cx="396.6" cy="485.0" r="2.95"/><circle cx="399.8" cy="498.2" r="2.95"/><circle cx="392.1" cy="506.7" r="2.95"/><circle cx="403.0" cy="510.5" r="2.95"/><circle cx="423.6" cy="482.4" r="2.95"/><circle cx="454.0" cy="466.0" r="2.95"/><circle cx="426.9" cy="469.2" r="2.95"/><circle cx="418.1" cy="487.5" r="2.95"/><circle cx="406.3" cy="516.4" r="2.95"/><circle cx="392.1" cy="520.4" r="2.95"/><circle cx="392.1" cy="522.3" r="2.95"/><circle cx="406.4" cy="508.2" r="2.95"/><circle cx="432.0" cy="493.9" r="2.95"/><circle cx="465.7" cy="498.8" r="2.95"/><circle cx="488.8" cy="487.0" r="2.95"/><circle cx="461.2" cy="488.7" r="2.95"/><circle cx="429.8" cy="526.8" r="2.95"/><circle cx="423.6" cy="581.6" r="2.95"/><circle cx="399.0" cy="584.6" r="2.95"/><circle cx="373.1" cy="593.9" r="2.95"/><circle cx="348.8" cy="577.2" r="2.95"/><circle cx="317.2" cy="579.8" r="2.95"/><circle cx="281.0" cy="587.7" r="2.95"/><circle cx="245.9" cy="599.6" r="2.95"/><circle cx="225.7" cy="610.4" r="2.95"/><circle cx="233.5" cy="624.3" r="2.95"/><circle cx="214.1" cy="623.7" r="2.95"/><circle cx="218.1" cy="622.7" r="2.95"/><circle cx="227.7" cy="616.7" r="2.95"/><circle cx="245.0" cy="610.6" r="2.95"/><circle cx="283.8" cy="626.3" r="2.95"/><circle cx="260.5" cy="630.7" r="2.95"/><circle cx="264.6" cy="632.5" r="2.95"/><circle cx="268.3" cy="633.1" r="2.95"/><circle cx="241.2" cy="630.6" r="2.95"/><circle cx="238.3" cy="626.3" r="2.95"/><circle cx="233.5" cy="638.4" r="2.95"/><circle cx="216.4" cy="649.7" r="2.95"/><circle cx="176.2" cy="655.7" r="2.95"/><circle cx="132.9" cy="666.8" r="2.95"/><circle cx="134.7" cy="669.4" r="2.95"/><circle cx="138.4" cy="665.5" r="2.95"/><circle cx="144.5" cy="678.2" r="2.95"/><circle cx="129.0" cy="671.0" r="2.95"/><circle cx="132.5" cy="659.6" r="2.95"/><circle cx="144.8" cy="659.6" r="2.95"/><circle cx="176.4" cy="671.4" r="2.95"/><circle cx="197.6" cy="610.9" r="2.95"/><circle cx="252.7" cy="506.6" r="2.95"/><circle cx="372.7" cy="522.5" r="2.95"/><circle cx="347.2" cy="544.8" r="2.95"/><circle cx="319.7" cy="555.6" r="2.95"/><circle cx="310.4" cy="532.1" r="2.95"/><circle cx="268.3" cy="541.9" r="2.95"/><circle cx="313.1" cy="521.3" r="2.95"/><circle cx="367.6" cy="501.4" r="2.95"/><circle cx="427.3" cy="485.2" r="2.95"/><circle cx="465.6" cy="475.2" r="2.95"/><circle cx="457.1" cy="479.1" r="2.95"/><circle cx="442.0" cy="477.0" r="2.95"/><circle cx="430.8" cy="475.2" r="2.95"/><circle cx="477.2" cy="489.0" r="2.95"/><circle cx="434.6" cy="479.1" r="2.95"/><circle cx="454.8" cy="481.5" r="2.95"/><circle cx="462.6" cy="483.1" r="2.95"/><circle cx="465.6" cy="461.1" r="2.95"/><circle cx="461.0" cy="438.9" r="2.95"/><circle cx="455.2" cy="448.0" r="2.95"/><circle cx="451.7" cy="462.6" r="2.95"/><circle cx="450.1" cy="474.8" r="2.95"/><circle cx="470.2" cy="482.3" r="2.95"/><circle cx="477.2" cy="494.8" r="2.95"/><circle cx="469.5" cy="484.5" r="2.95"/><circle cx="496.5" cy="445.8" r="2.95"/><circle cx="442.6" cy="480.1" r="2.95"/><circle cx="381.5" cy="597.7" r="2.95"/><circle cx="309.8" cy="600.7" r="2.95"/><circle cx="269.2" cy="612.4" r="2.95"/><circle cx="198.6" cy="617.1" r="2.95"/><circle cx="229.2" cy="618.1" r="2.95"/><circle cx="268.3" cy="621.5" r="2.95"/><circle cx="236.5" cy="627.6" r="2.95"/><circle cx="204.0" cy="636.1" r="2.95"/><circle cx="190.9" cy="632.1" r="2.95"/><circle cx="221.5" cy="637.5" r="2.95"/><circle cx="261.7" cy="610.9" r="2.95"/><circle cx="295.0" cy="572.2" r="2.95"/><circle cx="320.4" cy="564.4" r="2.95"/><circle cx="357.3" cy="562.3" r="2.95"/><circle cx="314.7" cy="559.3" r="2.95"/><circle cx="318.6" cy="555.6" r="2.95"/><circle cx="289.4" cy="559.1" r="2.95"/><circle cx="255.8" cy="561.5" r="2.95"/><circle cx="241.2" cy="553.4" r="2.95"/><circle cx="261.2" cy="551.4" r="2.95"/><circle cx="280.1" cy="549.8" r="2.95"/><circle cx="283.8" cy="577.7" r="2.95"/><circle cx="279.6" cy="587.0" r="2.95"/><circle cx="276.0" cy="584.6" r="2.95"/><circle cx="299.0" cy="579.8" r="2.95"/><circle cx="316.8" cy="573.3" r="2.95"/><circle cx="322.4" cy="575.3" r="2.95"/><circle cx="306.1" cy="569.3" r="2.95"/><circle cx="291.5" cy="559.4" r="2.95"/><circle cx="312.5" cy="548.2" r="2.95"/><circle cx="326.2" cy="536.3" r="2.95"/><circle cx="332.0" cy="518.4" r="2.95"/><circle cx="337.9" cy="526.0" r="2.95"/><circle cx="321.3" cy="550.4" r="2.95"/><circle cx="268.5" cy="585.8" r="2.95"/><circle cx="250.8" cy="604.2" r="2.95"/><circle cx="231.3" cy="616.4" r="2.95"/><circle cx="211.2" cy="631.9" r="2.95"/><circle cx="199.7" cy="654.2" r="2.95"/><circle cx="194.9" cy="663.0" r="2.95"/><circle cx="163.8" cy="665.9" r="2.95"/><circle cx="183.2" cy="666.9" r="2.95"/><circle cx="175.3" cy="668.2" r="2.95"/><circle cx="163.8" cy="669.4" r="2.95"/><circle cx="184.5" cy="640.6" r="2.95"/><circle cx="194.4" cy="622.3" r="2.95"/><circle cx="225.7" cy="631.2" r="2.95"/><circle cx="174.1" cy="642.5" r="2.95"/><circle cx="129.1" cy="651.1" r="2.95"/><circle cx="82.6" cy="657.8" r="2.95"/><circle cx="84.7" cy="666.8" r="2.95"/><circle cx="88.7" cy="675.7" r="2.95"/><circle cx="95.8" cy="689.0" r="2.95"/><circle cx="127.5" cy="647.3" r="2.95"/><circle cx="161.1" cy="604.7" r="2.95"/><circle cx="194.6" cy="609.1" r="2.95"/><circle cx="226.1" cy="620.5" r="2.95"/><circle cx="260.5" cy="630.2" r="2.95"/><circle cx="250.9" cy="578.5" r="2.95"/><circle cx="241.2" cy="531.5" r="2.95"/><circle cx="354.0" cy="529.3" r="2.95"/><circle cx="368.8" cy="518.4" r="2.95"/><circle cx="384.3" cy="528.2" r="2.95"/><circle cx="378.0" cy="523.3" r="2.95"/><circle cx="360.4" cy="521.1" r="2.95"/><circle cx="345.6" cy="520.3" r="2.95"/><circle cx="334.4" cy="530.6" r="2.95"/><circle cx="326.3" cy="534.1" r="2.95"/><circle cx="368.3" cy="529.1" r="2.95"/><circle cx="391.3" cy="522.4" r="2.95"/><circle cx="407.6" cy="509.5" r="2.95"/><circle cx="404.6" cy="500.7" r="2.95"/><circle cx="393.9" cy="525.1" r="2.95"/><circle cx="327.6" cy="579.3" r="2.95"/><circle cx="242.2" cy="592.9" r="2.95"/><circle cx="241.2" cy="591.1" r="2.95"/><circle cx="249.1" cy="589.0" r="2.95"/><circle cx="257.7" cy="590.9" r="2.95"/><circle cx="265.7" cy="591.0" r="2.95"/><circle cx="272.2" cy="585.1" r="2.95"/><circle cx="264.6" cy="578.7" r="2.95"/><circle cx="256.7" cy="577.2" r="2.95"/><circle cx="252.8" cy="591.0" r="2.95"/><circle cx="300.8" cy="581.1" r="2.95"/><circle cx="315.2" cy="596.8" r="2.95"/><circle cx="331.9" cy="566.2" r="2.95"/><circle cx="345.7" cy="536.4" r="2.95"/><circle cx="339.9" cy="521.3" r="2.95"/><circle cx="349.5" cy="534.7" r="2.95"/><circle cx="343.3" cy="553.7" r="2.95"/><circle cx="337.9" cy="540.5" r="2.95"/><circle cx="361.8" cy="526.2" r="2.95"/><circle cx="380.5" cy="562.1" r="2.95"/><circle cx="359.9" cy="567.4" r="2.95"/><circle cx="299.2" cy="524.5" r="2.95"/><circle cx="353.4" cy="514.5" r="2.95"/><circle cx="368.9" cy="527.1" r="2.95"/><circle cx="363.6" cy="551.7" r="2.95"/><circle cx="354.5" cy="544.1" r="2.95"/><circle cx="345.7" cy="536.0" r="2.95"/><circle cx="357.3" cy="534.1" r="2.95"/><circle cx="342.0" cy="549.2" r="2.95"/><circle cx="322.4" cy="555.9" r="2.95"/><circle cx="329.4" cy="564.8" r="2.95"/><circle cx="340.9" cy="573.3" r="2.95"/><circle cx="352.4" cy="564.1" r="2.95"/><circle cx="361.2" cy="550.1" r="2.95"/><circle cx="368.3" cy="538.0" r="2.95"/><circle cx="372.7" cy="549.7" r="2.95"/><circle cx="365.7" cy="554.7" r="2.95"/><circle cx="352.4" cy="556.7" r="2.95"/><circle cx="342.6" cy="559.6" r="2.95"/><circle cx="337.4" cy="554.9" r="2.95"/><circle cx="334.5" cy="551.5" r="2.95"/><circle cx="331.6" cy="549.8" r="2.95"/><circle cx="321.7" cy="557.2" r="2.95"/><circle cx="305.3" cy="573.6" r="2.95"/><circle cx="293.8" cy="583.0" r="2.95"/><circle cx="286.9" cy="595.3" r="2.95"/><circle cx="282.4" cy="613.7" r="2.95"/><circle cx="277.6" cy="624.3" r="2.95"/><circle cx="259.6" cy="612.5" r="2.95"/><circle cx="253.8" cy="602.6" r="2.95"/><circle cx="250.4" cy="587.0" r="2.95"/><circle cx="248.9" cy="589.1" r="2.95"/><circle cx="264.4" cy="591.0" r="2.95"/><circle cx="292.8" cy="537.3" r="2.95"/><circle cx="315.8" cy="526.2" r="2.95"/><circle cx="330.6" cy="530.1" r="2.95"/><circle cx="349.5" cy="524.5" r="2.95"/><circle cx="381.0" cy="518.5" r="2.95"/><circle cx="404.0" cy="508.8" r="2.95"/><circle cx="421.1" cy="490.9" r="2.95"/><circle cx="434.6" cy="487.9" r="2.95"/><circle cx="446.1" cy="472.7" r="2.95"/><circle cx="451.9" cy="457.9" r="2.95"/><circle cx="454.0" cy="453.3" r="2.95"/><circle cx="456.5" cy="447.4" r="2.95"/><circle cx="465.6" cy="430.1" r="2.95"/><circle cx="424.7" cy="465.0" r="2.95"/><circle cx="365.4" cy="516.9" r="2.95"/><circle cx="315.3" cy="557.2" r="2.95"/><circle cx="304.1" cy="580.9" r="2.95"/><circle cx="299.2" cy="599.5" r="2.95"/><circle cx="333.6" cy="616.5" r="2.95"/><circle cx="341.8" cy="630.2" r="2.95"/><circle cx="331.5" cy="628.2" r="2.95"/><circle cx="280.2" cy="629.0" r="2.95"/><circle cx="240.5" cy="630.2" r="2.95"/><circle cx="232.9" cy="608.4" r="2.95"/><circle cx="230.1" cy="598.8" r="2.95"/><circle cx="211.5" cy="605.0" r="2.95"/><circle cx="175.0" cy="617.0" r="2.95"/><circle cx="156.1" cy="634.1" r="2.95"/><circle cx="182.5" cy="620.4" r="2.95"/><circle cx="207.8" cy="626.1" r="2.95"/><circle cx="223.5" cy="634.6" r="2.95"/><circle cx="225.7" cy="642.0" r="2.95"/><circle cx="217.7" cy="643.9" r="2.95"/><circle cx="209.0" cy="636.6" r="2.95"/><circle cx="200.4" cy="627.9" r="2.95"/><circle cx="192.8" cy="622.3" r="2.95"/><circle cx="187.0" cy="628.2" r="2.95"/><circle cx="180.4" cy="617.0" r="2.95"/><circle cx="171.6" cy="617.3" r="2.95"/><circle cx="193.0" cy="624.2" r="2.95"/><circle cx="201.3" cy="631.2" r="2.95"/><circle cx="208.1" cy="637.2" r="2.95"/><circle cx="214.1" cy="646.0" r="2.95"/><circle cx="175.4" cy="659.6" r="2.95"/><circle cx="183.4" cy="626.8" r="2.95"/><circle cx="206.0" cy="614.7" r="2.95"/><circle cx="226.6" cy="606.9" r="2.95"/><circle cx="229.5" cy="600.9" r="2.95"/><circle cx="237.3" cy="598.8" r="2.95"/><circle cx="232.0" cy="599.8" r="2.95"/><circle cx="225.7" cy="600.8" r="2.95"/><circle cx="244.1" cy="581.0" r="2.95"/><circle cx="250.4" cy="573.3" r="2.95"/><circle cx="256.2" cy="585.4" r="2.95"/><circle cx="260.5" cy="604.7" r="2.95"/><circle cx="252.8" cy="602.5" r="2.95"/><circle cx="258.0" cy="600.8" r="2.95"/><circle cx="266.9" cy="606.6" r="2.95"/><circle cx="277.2" cy="590.9" r="2.95"/><circle cx="283.0" cy="587.0" r="2.95"/><circle cx="283.8" cy="592.1" r="2.95"/><circle cx="271.9" cy="596.6" r="2.95"/><circle cx="251.8" cy="600.3" r="2.95"/><circle cx="246.1" cy="603.3" r="2.95"/><circle cx="238.0" cy="606.6" r="2.95"/><circle cx="233.5" cy="604.7" r="2.95"/><circle cx="237.3" cy="606.4" r="2.95"/><circle cx="224.3" cy="609.0" r="2.95"/><circle cx="215.1" cy="610.5" r="2.95"/><circle cx="210.3" cy="614.7" r="2.95"/><circle cx="218.0" cy="618.3" r="2.95"/><circle cx="214.1" cy="620.4" r="2.95"/><circle cx="216.3" cy="616.5" r="2.95"/><circle cx="218.0" cy="612.5" r="2.95"/><circle cx="205.8" cy="615.5" r="2.95"/><circle cx="195.5" cy="620.5" r="2.95"/><circle cx="187.0" cy="626.3" r="2.95"/></g>
<line x1="82.6" y1="692.7" x2="496.5" y2="457.1" stroke="#4472c4" stroke-width="2.9" stroke-dasharray="2.6 3.4" stroke-linecap="butt"/>
<rect x="457.3" y="673.3" width="90.6" height="23.9" fill="#fff" stroke="#333" stroke-width="1.5"/>
<text x="502.6" y="691.2" text-anchor="middle" class="r2">R² = 0.8577</text>
<text x="330.5" y="730.8" text-anchor="middle" class="at">Predicted sc-PDSI values</text>
<text transform="translate(40.2 581.3) rotate(-90)" text-anchor="middle" class="at">Actual sc-PDSI values</text>
<path d="M625.4 413.8V693.8M625.4 553.8H1131.5M620.9 693.8H629.4M620.9 665.8H629.4M620.9 637.8H629.4M620.9 609.8H629.4M620.9 581.8H629.4M620.9 553.8H629.4M620.9 525.8H629.4M620.9 497.8H629.4M620.9 469.8H629.4M620.9 441.8H629.4M620.9 413.8H629.4M654.0 549.8V557.8M682.6 549.8V557.8M711.2 549.8V557.8M739.8 549.8V557.8M768.3 549.8V557.8M796.9 549.8V557.8M825.5 549.8V557.8M854.1 549.8V557.8M882.7 549.8V557.8M911.3 549.8V557.8M939.9 549.8V557.8M968.5 549.8V557.8M997.0 549.8V557.8M1025.6 549.8V557.8M1054.2 549.8V557.8M1082.8 549.8V557.8M1111.4 549.8V557.8" stroke="#3a3a3a" stroke-width="1.5" fill="none"/>
<text x="612.5" y="698.1" text-anchor="end" class="tr">-5</text>
<text x="612.5" y="670.1" text-anchor="end" class="tr">-4</text>
<text x="612.5" y="642.1" text-anchor="end" class="tr">-3</text>
<text x="612.5" y="614.1" text-anchor="end" class="tr">-2</text>
<text x="612.5" y="586.1" text-anchor="end" class="tr">-1</text>
<text x="612.5" y="558.1" text-anchor="end" class="tr">0</text>
<text x="612.5" y="530.1" text-anchor="end" class="tr">1</text>
<text x="612.5" y="502.1" text-anchor="end" class="tr">2</text>
<text x="612.5" y="474.1" text-anchor="end" class="tr">3</text>
<text x="612.5" y="446.1" text-anchor="end" class="tr">4</text>
<text x="612.5" y="418.1" text-anchor="end" class="tr">5</text>
<text x="626.4" y="574.6" text-anchor="middle" class="tr">1</text>
<text x="654.0" y="574.6" text-anchor="middle" class="tr">21</text>
<text x="682.6" y="574.6" text-anchor="middle" class="tr">41</text>
<text x="711.2" y="574.6" text-anchor="middle" class="tr">61</text>
<text x="739.8" y="574.6" text-anchor="middle" class="tr">81</text>
<text x="768.3" y="574.6" text-anchor="middle" class="tr">101</text>
<text x="796.9" y="574.6" text-anchor="middle" class="tr">121</text>
<text x="825.5" y="574.6" text-anchor="middle" class="tr">141</text>
<text x="854.1" y="574.6" text-anchor="middle" class="tr">161</text>
<text x="882.7" y="574.6" text-anchor="middle" class="tr">181</text>
<text x="911.3" y="574.6" text-anchor="middle" class="tr">201</text>
<text x="939.9" y="574.6" text-anchor="middle" class="tr">221</text>
<text x="968.5" y="574.6" text-anchor="middle" class="tr">241</text>
<text x="997.0" y="574.6" text-anchor="middle" class="tr">261</text>
<text x="1025.6" y="574.6" text-anchor="middle" class="tr">281</text>
<text x="1054.2" y="574.6" text-anchor="middle" class="tr">301</text>
<text x="1082.8" y="574.6" text-anchor="middle" class="tr">321</text>
<text x="1111.4" y="574.6" text-anchor="middle" class="tr">341</text>
<polyline points="625.4,667.3 626.8,654.7 628.3,646.1 629.7,644.3 631.1,642.0 632.5,630.2 634.0,622.8 635.4,658.5 636.8,655.3 638.3,651.6 639.7,649.5 641.1,636.6 642.6,627.7 644.0,625.4 645.4,629.6 646.8,636.3 648.3,639.9 649.7,633.6 651.1,639.6 652.6,642.4 654.0,643.1 655.4,644.0 656.8,638.1 658.3,629.0 659.7,634.5 661.1,640.8 662.6,649.5 664.0,656.4 665.4,661.1 666.9,659.7 668.3,658.5 669.7,658.1 671.1,657.5 672.6,660.5 674.0,666.0 675.4,672.2 676.9,676.7 678.3,578.3 679.7,586.8 681.1,576.4 682.6,552.2 684.0,556.9 685.4,562.7 686.9,586.8 688.3,547.6 689.7,536.8 691.2,540.8 692.6,546.4 694.0,540.6 695.4,547.3 696.9,552.0 698.3,554.1 699.7,534.9 701.2,557.9 702.6,548.4 704.0,536.7 705.4,530.9 706.9,527.2 708.3,529.6 709.7,539.9 711.2,549.0 712.6,554.1 714.0,538.7 715.5,541.9 716.9,546.0 718.3,551.8 719.7,561.9 721.2,590.6 722.6,569.6 724.0,530.0 725.5,519.5 726.9,506.0 728.3,511.8 729.7,500.9 731.2,491.2 732.6,481.0 734.0,482.0 735.5,482.9 736.9,495.9 738.3,504.2 739.8,507.9 741.2,480.4 742.6,464.3 744.0,467.4 745.5,485.3 746.9,513.7 748.3,517.6 749.8,519.5 751.2,505.7 752.6,491.6 754.0,496.4 755.5,484.9 756.9,486.5 758.3,523.9 759.8,577.6 761.2,580.5 762.6,589.7 764.1,573.3 765.5,575.9 766.9,583.6 768.3,595.3 769.8,605.9 771.2,619.5 772.6,618.9 774.1,617.9 775.5,612.0 776.9,606.0 778.3,621.4 779.8,625.8 781.2,627.5 782.6,628.1 784.1,625.7 785.5,621.4 786.9,633.3 788.4,644.4 789.8,650.3 791.2,661.2 792.6,663.7 794.1,659.9 795.5,672.4 796.9,665.3 798.4,654.1 799.8,654.1 801.2,665.6 802.6,606.4 804.1,504.1 805.5,519.6 806.9,541.5 808.4,552.2 809.8,529.1 811.2,538.7 812.7,518.5 814.1,499.0 815.5,483.1 816.9,473.3 818.4,477.2 819.8,475.0 821.2,473.3 822.7,486.8 824.1,477.2 825.5,479.5 826.9,481.0 828.4,459.5 829.8,437.8 831.2,446.7 832.7,461.0 834.1,472.9 835.5,480.2 837.0,492.6 838.4,482.4 839.8,444.5 841.2,478.1 842.7,593.4 844.1,596.3 845.5,607.8 847.0,612.4 848.4,613.4 849.8,616.7 851.2,622.8 852.7,631.0 854.1,627.2 855.5,632.5 857.0,606.4 858.4,568.4 859.8,560.7 861.3,558.7 862.7,555.8 864.1,552.2 865.5,555.6 867.0,557.9 868.4,550.0 869.8,548.0 871.3,546.4 872.7,573.8 874.1,582.9 875.5,580.6 877.0,575.9 878.4,569.5 879.8,571.4 881.3,565.6 882.7,555.9 884.1,544.9 885.6,533.2 887.0,515.6 888.4,523.1 889.8,547.0 891.3,581.8 892.7,599.8 894.1,611.7 895.6,626.9 897.0,648.8 898.4,657.4 899.8,660.3 901.3,661.3 902.7,662.5 904.1,663.7 905.6,635.4 907.0,617.6 908.4,626.2 909.9,637.4 911.3,645.8 912.7,652.4 914.1,661.1 915.6,669.9 917.0,682.9 918.4,642.0 919.9,600.3 921.3,604.6 922.7,615.7 924.1,625.3 925.6,574.6 927.0,528.5 928.4,526.4 929.9,515.6 931.3,525.3 932.7,520.5 934.2,518.4 935.6,517.6 937.0,527.6 938.4,531.0 939.9,526.2 941.3,519.6 942.7,506.9 944.2,498.3 945.6,522.2 947.0,575.4 948.4,588.7 949.9,587.0 951.3,584.9 952.7,586.7 954.2,586.8 955.6,581.1 957.0,574.8 958.5,573.3 959.9,586.8 961.3,577.2 962.7,592.6 964.2,562.5 965.6,533.3 967.0,518.5 968.5,531.6 969.9,550.3 971.3,537.4 972.7,523.3 974.2,558.5 975.6,563.7 977.0,521.6 978.5,511.8 979.9,524.2 981.3,548.3 982.8,540.9 984.2,532.9 985.6,531.0 987.0,545.8 988.5,552.4 989.9,561.2 991.3,569.5 992.8,560.5 994.2,546.7 995.6,534.9 997.0,546.4 998.5,551.2 999.9,553.2 1001.3,556.0 1002.8,551.5 1004.2,548.1 1005.6,546.4 1007.0,553.7 1008.5,569.8 1009.9,579.0 1011.3,591.1 1012.8,609.1 1014.2,619.5 1015.6,607.9 1017.1,598.2 1018.5,582.9 1019.9,584.9 1021.3,586.8 1022.8,534.2 1024.2,523.3 1025.6,527.2 1027.1,521.7 1028.5,515.8 1029.9,506.3 1031.3,488.7 1032.8,485.8 1034.2,470.9 1035.6,456.3 1037.1,451.9 1038.5,446.0 1039.9,429.1 1041.4,463.4 1042.8,514.2 1044.2,553.7 1045.6,576.9 1047.1,595.2 1048.5,611.8 1049.9,625.3 1051.4,623.3 1052.8,624.1 1054.2,625.3 1055.6,603.9 1057.1,594.5 1058.5,600.5 1059.9,612.4 1061.4,629.1 1062.8,615.6 1064.2,621.3 1065.7,629.6 1067.1,636.8 1068.5,638.7 1069.9,631.6 1071.4,623.0 1072.8,617.6 1074.2,623.3 1075.7,612.3 1077.1,612.6 1078.5,619.4 1079.9,626.3 1081.4,632.2 1082.8,640.8 1084.2,654.1 1085.7,621.9 1087.1,610.1 1088.5,602.4 1090.0,596.6 1091.4,594.5 1092.8,595.4 1094.2,596.4 1095.7,577.0 1097.1,569.5 1098.5,581.4 1100.0,600.3 1101.4,598.1 1102.8,596.4 1104.2,602.2 1105.7,586.7 1107.1,582.9 1108.5,587.9 1110.0,592.3 1111.4,596.0 1112.8,598.9 1114.3,602.2 1115.7,600.3 1117.1,601.9 1118.5,604.5 1120.0,605.9 1121.4,610.1 1122.8,613.6 1124.3,615.6 1125.7,611.8 1127.1,607.9 1128.5,610.9 1130.0,615.8 1131.4,621.4" fill="none" stroke="#ff0000" stroke-width="2.9" stroke-linejoin="round"/>
<polyline points="625.4,666.5 626.8,658.3 628.3,649.7 629.7,645.2 631.1,643.5 632.5,645.4 634.0,637.7 635.4,641.6 636.8,645.4 638.3,643.5 639.7,641.5 641.1,642.5 642.6,643.5 644.0,630.4 645.4,620.4 646.8,625.7 648.3,634.2 649.7,643.5 651.1,640.8 652.6,638.8 654.0,637.4 655.4,635.9 656.8,624.2 658.3,625.0 659.7,627.6 661.1,634.7 662.6,638.2 664.0,643.2 665.4,649.2 666.9,647.6 668.3,645.0 669.7,643.5 671.1,645.7 672.6,648.6 674.0,650.3 675.4,651.8 676.9,653.1 678.3,616.1 679.7,587.7 681.1,595.3 682.6,605.6 684.0,612.7 685.4,600.7 686.9,588.2 688.3,568.4 689.7,564.6 691.2,531.9 692.6,545.0 694.0,555.0 695.4,551.7 696.9,547.3 698.3,557.9 699.7,566.5 701.2,561.1 702.6,553.1 704.0,568.5 705.4,558.7 706.9,548.0 708.3,538.3 709.7,531.9 711.2,549.3 712.6,553.6 714.0,555.8 715.5,556.9 716.9,555.0 718.3,559.8 719.7,570.4 721.2,584.1 722.6,585.8 724.0,574.3 725.5,560.0 726.9,547.3 728.3,571.2 729.7,585.8 731.2,560.8 732.6,540.1 734.0,526.2 735.5,522.0 736.9,520.4 738.3,524.2 739.8,518.8 741.2,508.6 742.6,493.5 744.0,506.9 745.5,511.3 746.9,517.2 748.3,524.2 749.8,524.2 751.2,517.1 752.6,504.4 754.0,487.6 755.5,476.2 756.9,489.9 758.3,505.5 759.8,508.6 761.2,520.8 762.6,533.7 764.1,545.7 765.5,561.4 766.9,579.5 768.3,596.9 769.8,606.9 771.2,603.1 772.6,612.7 774.1,610.7 775.5,605.9 776.9,597.3 778.3,578.1 779.8,589.6 781.2,587.6 782.6,585.8 784.1,599.3 785.5,600.7 786.9,603.1 788.4,611.5 789.8,631.5 791.2,653.1 792.6,652.2 794.1,650.3 795.5,647.3 796.9,655.0 798.4,653.3 799.8,647.2 801.2,631.4 802.6,620.9 804.1,593.5 805.5,533.8 806.9,546.5 808.4,560.2 809.8,564.8 811.2,585.8 812.7,563.5 814.1,536.4 815.5,506.7 816.9,487.7 818.4,491.9 819.8,499.4 821.2,505.0 822.7,481.9 824.1,503.1 825.5,493.1 826.9,489.2 828.4,487.7 829.8,490.0 831.2,492.9 832.7,494.6 834.1,495.4 835.5,485.4 837.0,481.9 838.4,485.8 839.8,472.3 841.2,499.1 842.7,529.5 844.1,565.1 845.5,585.3 847.0,620.4 848.4,605.2 849.8,585.8 851.2,601.6 852.7,617.7 854.1,624.2 855.5,609.0 857.0,589.0 858.4,572.5 859.8,559.9 861.3,541.5 862.7,562.7 864.1,560.8 865.5,575.3 867.0,592.0 868.4,599.2 869.8,589.3 871.3,579.9 872.7,578.1 874.1,580.2 875.5,581.9 877.0,570.5 878.4,561.7 879.8,558.8 881.3,567.0 882.7,574.2 884.1,563.8 885.6,557.0 887.0,554.1 888.4,551.2 889.8,559.4 891.3,585.7 892.7,594.5 894.1,604.2 895.6,614.1 897.0,619.9 898.4,622.2 899.8,637.7 901.3,628.1 902.7,632.0 904.1,637.7 905.6,627.4 907.0,622.5 908.4,606.9 909.9,632.6 911.3,655.0 912.7,678.1 914.1,677.0 915.6,675.0 917.0,671.5 918.4,655.8 919.9,639.0 921.3,622.4 922.7,606.7 924.1,589.6 925.6,594.4 927.0,599.2 928.4,543.2 929.9,535.8 931.3,528.1 932.7,531.2 934.2,540.0 935.6,547.3 937.0,552.9 938.4,556.9 939.9,536.1 941.3,524.6 942.7,516.5 944.2,518.0 945.6,523.3 947.0,556.3 948.4,598.7 949.9,599.2 951.3,595.3 952.7,591.0 954.2,587.1 955.6,583.8 957.0,587.6 958.5,591.5 959.9,593.5 961.3,569.6 962.7,562.5 964.2,554.1 965.6,547.3 967.0,550.2 968.5,545.4 969.9,548.5 971.3,551.2 972.7,539.3 974.2,530.0 975.6,540.2 977.0,570.4 978.5,543.5 979.9,535.8 981.3,538.4 982.8,542.9 984.2,547.3 985.6,541.5 987.0,549.2 988.5,558.8 989.9,555.4 991.3,549.7 992.8,544.0 994.2,539.6 995.6,536.1 997.0,533.8 998.5,537.3 999.9,543.9 1001.3,548.8 1002.8,551.4 1004.2,552.8 1005.6,554.3 1007.0,559.2 1008.5,567.4 1009.9,573.1 1011.3,576.5 1012.8,578.7 1014.2,581.1 1015.6,590.1 1017.1,593.0 1018.5,594.6 1019.9,595.4 1021.3,587.7 1022.8,573.6 1024.2,562.1 1025.6,554.8 1027.1,545.4 1028.5,529.8 1029.9,518.3 1031.3,509.8 1032.8,503.1 1034.2,497.4 1035.6,494.5 1037.1,493.5 1038.5,492.2 1039.9,487.7 1041.4,508.0 1042.8,537.5 1044.2,562.4 1045.6,568.0 1047.1,570.4 1048.5,553.3 1049.9,549.2 1051.4,554.3 1052.8,579.9 1054.2,599.6 1055.6,603.3 1057.1,604.8 1058.5,614.0 1059.9,632.1 1061.4,641.5 1062.8,628.4 1064.2,615.8 1065.7,608.0 1067.1,606.9 1068.5,610.9 1069.9,615.2 1071.4,619.5 1072.8,623.3 1074.2,626.2 1075.7,629.5 1077.1,633.8 1078.5,623.2 1079.9,619.1 1081.4,615.7 1082.8,612.7 1084.2,631.9 1085.7,628.0 1087.1,616.7 1088.5,606.5 1090.0,605.0 1091.4,601.2 1092.8,603.8 1094.2,606.9 1095.7,597.8 1097.1,594.6 1098.5,591.8 1100.0,589.6 1101.4,593.5 1102.8,590.9 1104.2,586.5 1105.7,581.3 1107.1,578.5 1108.5,578.1 1110.0,584.0 1111.4,593.9 1112.8,596.8 1114.3,600.8 1115.7,603.1 1117.1,601.2 1118.5,607.6 1120.0,612.2 1121.4,614.6 1122.8,610.8 1124.3,612.7 1125.7,611.6 1127.1,610.8 1128.5,616.9 1130.0,622.0 1131.4,626.2" fill="none" stroke="#000" stroke-width="2.9" stroke-linejoin="round"/>
<line x1="692" y1="718.7" x2="717.6" y2="718.7" stroke="#ff0000" stroke-width="2.6"/>
<text x="720.6" y="723.3" class="lg">Actual sc-PDSI values</text>
<line x1="880" y1="718.7" x2="905.4" y2="718.7" stroke="#000" stroke-width="2.6"/>
<text x="908.3" y="723.3" class="lg">Predicted sc-PDSI values</text>
<text x="585.3" y="762.5" text-anchor="middle" class="pl">(b)</text>
<path d="M50.2 791.6V1077.2M100.9 791.6V1077.2M151.6 791.6V1077.2M202.3 791.6V1077.2M253.0 791.6V1077.2M354.4 791.6V1077.2M405.1 791.6V1077.2M455.8 791.6V1077.2M506.5 791.6V1077.2M557.2 791.6V1077.2M50.2 1077.2H557.2M50.2 1048.6H557.2M50.2 1020.1H557.2M50.2 991.5H557.2M50.2 963.0H557.2M50.2 905.8H557.2M50.2 877.3H557.2M50.2 848.7H557.2M50.2 820.2H557.2M50.2 791.6H557.2" stroke="#c2c2c2" stroke-width="1" stroke-dasharray="2.5 1.9" fill="none"/>
<path d="M50.2 934.4H557.2M303.7 791.6V1077.2M50.2 930.4V938.4M100.9 930.4V938.4M151.6 930.4V938.4M202.3 930.4V938.4M253.0 930.4V938.4M303.7 930.4V938.4M354.4 930.4V938.4M405.1 930.4V938.4M455.8 930.4V938.4M506.5 930.4V938.4M557.2 930.4V938.4M299.2 1077.2H308.2M299.2 1048.6H308.2M299.2 1020.1H308.2M299.2 991.5H308.2M299.2 963.0H308.2M299.2 934.4H308.2M299.2 905.8H308.2M299.2 877.3H308.2M299.2 848.7H308.2M299.2 820.2H308.2M299.2 791.6H308.2" stroke="#3a3a3a" stroke-width="1.6" fill="none"/>
<text x="50.2" y="956.1" text-anchor="middle" class="tl">-5</text>
<text x="100.9" y="956.1" text-anchor="middle" class="tl">-4</text>
<text x="151.6" y="956.1" text-anchor="middle" class="tl">-3</text>
<text x="202.3" y="956.1" text-anchor="middle" class="tl">-2</text>
<text x="253.0" y="956.1" text-anchor="middle" class="tl">-1</text>
<text x="303.7" y="956.1" text-anchor="middle" class="tl">0</text>
<text x="354.4" y="956.1" text-anchor="middle" class="tl">1</text>
<text x="405.1" y="956.1" text-anchor="middle" class="tl">2</text>
<text x="455.8" y="956.1" text-anchor="middle" class="tl">3</text>
<text x="506.5" y="956.1" text-anchor="middle" class="tl">4</text>
<text x="557.2" y="956.1" text-anchor="middle" class="tl">5</text>
<text x="292.7" y="1082.2" text-anchor="end" class="tl">-5</text>
<text x="292.7" y="1053.6" text-anchor="end" class="tl">-4</text>
<text x="292.7" y="1025.1" text-anchor="end" class="tl">-3</text>
<text x="292.7" y="996.5" text-anchor="end" class="tl">-2</text>
<text x="292.7" y="968.0" text-anchor="end" class="tl">-1</text>
<text x="292.7" y="910.8" text-anchor="end" class="tl">1</text>
<text x="292.7" y="882.3" text-anchor="end" class="tl">2</text>
<text x="292.7" y="853.7" text-anchor="end" class="tl">3</text>
<text x="292.7" y="825.2" text-anchor="end" class="tl">4</text>
<text x="292.7" y="796.6" text-anchor="end" class="tl">5</text>
<g fill="#ff0000" stroke="#100000" stroke-width="0.95"><circle cx="141.6" cy="1028.5" r="2.95"/><circle cx="146.8" cy="1026.7" r="2.95"/><circle cx="152.0" cy="1024.3" r="2.95"/><circle cx="155.5" cy="1012.3" r="2.95"/><circle cx="145.1" cy="1004.7" r="2.95"/><circle cx="131.1" cy="1041.2" r="2.95"/><circle cx="134.5" cy="1037.9" r="2.95"/><circle cx="138.1" cy="1034.2" r="2.95"/><circle cx="134.6" cy="1032.0" r="2.95"/><circle cx="129.5" cy="1018.9" r="2.95"/><circle cx="127.6" cy="1009.8" r="2.95"/><circle cx="126.8" cy="1007.4" r="2.95"/><circle cx="124.1" cy="1011.7" r="2.95"/><circle cx="129.2" cy="1018.6" r="2.95"/><circle cx="132.7" cy="1022.2" r="2.95"/><circle cx="134.6" cy="1015.8" r="2.95"/><circle cx="134.6" cy="1021.9" r="2.95"/><circle cx="139.6" cy="1024.7" r="2.95"/><circle cx="160.0" cy="1025.5" r="2.95"/><circle cx="173.0" cy="1026.4" r="2.95"/><circle cx="176.4" cy="1020.4" r="2.95"/><circle cx="176.4" cy="1011.1" r="2.95"/><circle cx="173.8" cy="1016.7" r="2.95"/><circle cx="173.0" cy="1023.2" r="2.95"/><circle cx="171.2" cy="1032.0" r="2.95"/><circle cx="166.0" cy="1039.1" r="2.95"/><circle cx="143.5" cy="1043.9" r="2.95"/><circle cx="117.5" cy="1042.4" r="2.95"/><circle cx="113.7" cy="1041.2" r="2.95"/><circle cx="123.8" cy="1040.8" r="2.95"/><circle cx="136.2" cy="1040.2" r="2.95"/><circle cx="141.4" cy="1043.2" r="2.95"/><circle cx="156.8" cy="1048.8" r="2.95"/><circle cx="170.8" cy="1055.2" r="2.95"/><circle cx="186.2" cy="1059.7" r="2.95"/><circle cx="207.0" cy="959.4" r="2.95"/><circle cx="217.9" cy="968.1" r="2.95"/><circle cx="229.9" cy="957.5" r="2.95"/><circle cx="239.2" cy="932.7" r="2.95"/><circle cx="214.3" cy="937.5" r="2.95"/><circle cx="211.3" cy="943.5" r="2.95"/><circle cx="240.7" cy="968.1" r="2.95"/><circle cx="257.4" cy="928.1" r="2.95"/><circle cx="268.4" cy="917.1" r="2.95"/><circle cx="274.8" cy="921.1" r="2.95"/><circle cx="277.4" cy="926.9" r="2.95"/><circle cx="298.3" cy="921.0" r="2.95"/><circle cx="303.7" cy="927.8" r="2.95"/><circle cx="307.2" cy="932.6" r="2.95"/><circle cx="309.0" cy="934.7" r="2.95"/><circle cx="309.0" cy="915.1" r="2.95"/><circle cx="299.4" cy="938.6" r="2.95"/><circle cx="260.2" cy="928.9" r="2.95"/><circle cx="278.7" cy="917.0" r="2.95"/><circle cx="311.3" cy="911.0" r="2.95"/><circle cx="329.9" cy="907.2" r="2.95"/><circle cx="309.6" cy="909.7" r="2.95"/><circle cx="296.5" cy="920.2" r="2.95"/><circle cx="288.1" cy="929.5" r="2.95"/><circle cx="284.6" cy="934.7" r="2.95"/><circle cx="286.8" cy="919.0" r="2.95"/><circle cx="298.5" cy="922.3" r="2.95"/><circle cx="296.3" cy="926.5" r="2.95"/><circle cx="290.9" cy="932.4" r="2.95"/><circle cx="280.2" cy="942.7" r="2.95"/><circle cx="257.7" cy="972.0" r="2.95"/><circle cx="238.7" cy="950.5" r="2.95"/><circle cx="235.7" cy="910.1" r="2.95"/><circle cx="249.1" cy="899.4" r="2.95"/><circle cx="265.1" cy="885.7" r="2.95"/><circle cx="276.4" cy="891.6" r="2.95"/><circle cx="281.4" cy="880.4" r="2.95"/><circle cx="284.0" cy="870.6" r="2.95"/><circle cx="300.6" cy="860.2" r="2.95"/><circle cx="326.0" cy="861.1" r="2.95"/><circle cx="354.6" cy="862.1" r="2.95"/><circle cx="357.8" cy="875.3" r="2.95"/><circle cx="354.3" cy="883.8" r="2.95"/><circle cx="350.9" cy="887.6" r="2.95"/><circle cx="362.2" cy="859.5" r="2.95"/><circle cx="375.3" cy="843.1" r="2.95"/><circle cx="373.3" cy="846.3" r="2.95"/><circle cx="365.2" cy="864.6" r="2.95"/><circle cx="345.6" cy="893.5" r="2.95"/><circle cx="329.9" cy="897.5" r="2.95"/><circle cx="363.4" cy="899.4" r="2.95"/><circle cx="381.4" cy="885.3" r="2.95"/><circle cx="396.6" cy="871.0" r="2.95"/><circle cx="404.5" cy="875.9" r="2.95"/><circle cx="406.7" cy="864.1" r="2.95"/><circle cx="402.7" cy="865.8" r="2.95"/><circle cx="391.5" cy="903.9" r="2.95"/><circle cx="362.2" cy="958.7" r="2.95"/><circle cx="329.7" cy="961.7" r="2.95"/><circle cx="297.1" cy="971.0" r="2.95"/><circle cx="280.7" cy="954.3" r="2.95"/><circle cx="262.7" cy="956.9" r="2.95"/><circle cx="247.7" cy="964.8" r="2.95"/><circle cx="238.3" cy="976.7" r="2.95"/><circle cx="235.7" cy="987.5" r="2.95"/><circle cx="239.2" cy="1001.4" r="2.95"/><circle cx="221.6" cy="1000.8" r="2.95"/><circle cx="202.3" cy="999.8" r="2.95"/><circle cx="193.9" cy="993.8" r="2.95"/><circle cx="190.4" cy="987.7" r="2.95"/><circle cx="211.6" cy="1003.4" r="2.95"/><circle cx="229.2" cy="1007.8" r="2.95"/><circle cx="237.0" cy="1009.6" r="2.95"/><circle cx="242.7" cy="1010.2" r="2.95"/><circle cx="227.9" cy="1007.7" r="2.95"/><circle cx="210.8" cy="1003.4" r="2.95"/><circle cx="196.5" cy="1015.5" r="2.95"/><circle cx="178.2" cy="1026.8" r="2.95"/><circle cx="155.2" cy="1032.8" r="2.95"/><circle cx="134.7" cy="1043.9" r="2.95"/><circle cx="120.6" cy="1046.5" r="2.95"/><circle cx="123.8" cy="1042.6" r="2.95"/><circle cx="131.1" cy="1055.3" r="2.95"/><circle cx="128.2" cy="1048.1" r="2.95"/><circle cx="124.1" cy="1036.7" r="2.95"/><circle cx="171.6" cy="1036.7" r="2.95"/><circle cx="199.3" cy="1048.5" r="2.95"/><circle cx="224.0" cy="988.0" r="2.95"/><circle cx="250.2" cy="883.7" r="2.95"/><circle cx="289.4" cy="899.6" r="2.95"/><circle cx="332.3" cy="921.9" r="2.95"/><circle cx="361.3" cy="932.7" r="2.95"/><circle cx="322.9" cy="909.2" r="2.95"/><circle cx="281.1" cy="919.0" r="2.95"/><circle cx="332.6" cy="898.4" r="2.95"/><circle cx="348.0" cy="878.5" r="2.95"/><circle cx="350.6" cy="862.3" r="2.95"/><circle cx="358.0" cy="852.3" r="2.95"/><circle cx="370.2" cy="856.2" r="2.95"/><circle cx="383.5" cy="854.1" r="2.95"/><circle cx="388.7" cy="852.3" r="2.95"/><circle cx="398.6" cy="866.1" r="2.95"/><circle cx="404.6" cy="856.2" r="2.95"/><circle cx="406.7" cy="858.6" r="2.95"/><circle cx="386.9" cy="860.2" r="2.95"/><circle cx="371.3" cy="838.2" r="2.95"/><circle cx="364.1" cy="816.0" r="2.95"/><circle cx="361.3" cy="825.1" r="2.95"/><circle cx="363.4" cy="839.7" r="2.95"/><circle cx="379.1" cy="851.9" r="2.95"/><circle cx="396.8" cy="859.4" r="2.95"/><circle cx="411.2" cy="871.9" r="2.95"/><circle cx="417.1" cy="861.6" r="2.95"/><circle cx="402.1" cy="822.9" r="2.95"/><circle cx="381.3" cy="857.2" r="2.95"/><circle cx="360.4" cy="974.8" r="2.95"/><circle cx="339.5" cy="977.8" r="2.95"/><circle cx="318.2" cy="989.5" r="2.95"/><circle cx="284.3" cy="994.2" r="2.95"/><circle cx="262.0" cy="995.2" r="2.95"/><circle cx="245.1" cy="998.6" r="2.95"/><circle cx="233.2" cy="1004.7" r="2.95"/><circle cx="219.7" cy="1013.2" r="2.95"/><circle cx="203.1" cy="1009.2" r="2.95"/><circle cx="193.9" cy="1014.6" r="2.95"/><circle cx="199.5" cy="988.0" r="2.95"/><circle cx="244.5" cy="949.3" r="2.95"/><circle cx="293.7" cy="941.5" r="2.95"/><circle cx="340.4" cy="939.4" r="2.95"/><circle cx="324.8" cy="936.4" r="2.95"/><circle cx="314.7" cy="932.7" r="2.95"/><circle cx="265.8" cy="936.2" r="2.95"/><circle cx="233.0" cy="938.6" r="2.95"/><circle cx="206.0" cy="930.5" r="2.95"/><circle cx="179.0" cy="928.5" r="2.95"/><circle cx="173.0" cy="926.9" r="2.95"/><circle cx="201.9" cy="954.8" r="2.95"/><circle cx="228.0" cy="964.1" r="2.95"/><circle cx="250.1" cy="961.7" r="2.95"/><circle cx="260.5" cy="956.9" r="2.95"/><circle cx="274.5" cy="950.4" r="2.95"/><circle cx="293.9" cy="952.4" r="2.95"/><circle cx="318.6" cy="946.4" r="2.95"/><circle cx="333.4" cy="936.5" r="2.95"/><circle cx="305.1" cy="925.3" r="2.95"/><circle cx="287.2" cy="913.4" r="2.95"/><circle cx="284.5" cy="895.5" r="2.95"/><circle cx="276.7" cy="903.1" r="2.95"/><circle cx="272.4" cy="927.5" r="2.95"/><circle cx="266.3" cy="962.9" r="2.95"/><circle cx="253.3" cy="981.3" r="2.95"/><circle cx="240.1" cy="993.5" r="2.95"/><circle cx="194.5" cy="1009.0" r="2.95"/><circle cx="163.0" cy="1031.3" r="2.95"/><circle cx="143.6" cy="1040.1" r="2.95"/><circle cx="133.8" cy="1043.0" r="2.95"/><circle cx="131.1" cy="1044.0" r="2.95"/><circle cx="137.4" cy="1045.3" r="2.95"/><circle cx="149.9" cy="1046.5" r="2.95"/><circle cx="157.0" cy="1017.7" r="2.95"/><circle cx="162.6" cy="999.4" r="2.95"/><circle cx="179.9" cy="1008.3" r="2.95"/><circle cx="166.0" cy="1019.6" r="2.95"/><circle cx="148.9" cy="1028.2" r="2.95"/><circle cx="130.7" cy="1034.9" r="2.95"/><circle cx="110.2" cy="1043.9" r="2.95"/><circle cx="112.5" cy="1052.8" r="2.95"/><circle cx="117.9" cy="1066.1" r="2.95"/><circle cx="127.3" cy="1024.4" r="2.95"/><circle cx="142.9" cy="981.8" r="2.95"/><circle cx="165.3" cy="986.2" r="2.95"/><circle cx="190.2" cy="997.6" r="2.95"/><circle cx="216.2" cy="1007.3" r="2.95"/><circle cx="242.3" cy="955.6" r="2.95"/><circle cx="301.6" cy="908.6" r="2.95"/><circle cx="340.1" cy="906.4" r="2.95"/><circle cx="353.1" cy="895.5" r="2.95"/><circle cx="366.2" cy="905.3" r="2.95"/><circle cx="378.8" cy="900.4" r="2.95"/><circle cx="351.9" cy="898.2" r="2.95"/><circle cx="316.3" cy="897.4" r="2.95"/><circle cx="283.4" cy="907.7" r="2.95"/><circle cx="273.3" cy="911.2" r="2.95"/><circle cx="268.1" cy="906.2" r="2.95"/><circle cx="263.7" cy="899.5" r="2.95"/><circle cx="278.6" cy="886.6" r="2.95"/><circle cx="291.6" cy="877.8" r="2.95"/><circle cx="260.3" cy="902.2" r="2.95"/><circle cx="245.9" cy="956.4" r="2.95"/><circle cx="243.3" cy="970.0" r="2.95"/><circle cx="234.4" cy="968.2" r="2.95"/><circle cx="228.8" cy="966.1" r="2.95"/><circle cx="235.7" cy="968.0" r="2.95"/><circle cx="225.3" cy="968.1" r="2.95"/><circle cx="229.4" cy="962.2" r="2.95"/><circle cx="239.2" cy="955.8" r="2.95"/><circle cx="255.8" cy="954.3" r="2.95"/><circle cx="279.7" cy="968.1" r="2.95"/><circle cx="298.1" cy="958.2" r="2.95"/><circle cx="309.9" cy="973.9" r="2.95"/><circle cx="315.1" cy="943.3" r="2.95"/><circle cx="316.0" cy="913.5" r="2.95"/><circle cx="325.0" cy="898.4" r="2.95"/><circle cx="336.9" cy="911.8" r="2.95"/><circle cx="326.0" cy="930.8" r="2.95"/><circle cx="320.8" cy="917.6" r="2.95"/><circle cx="319.5" cy="903.3" r="2.95"/><circle cx="317.4" cy="939.2" r="2.95"/><circle cx="312.0" cy="944.5" r="2.95"/><circle cx="304.1" cy="901.6" r="2.95"/><circle cx="302.0" cy="891.6" r="2.95"/><circle cx="307.1" cy="904.2" r="2.95"/><circle cx="319.8" cy="928.8" r="2.95"/><circle cx="326.4" cy="921.2" r="2.95"/><circle cx="313.4" cy="913.1" r="2.95"/><circle cx="302.0" cy="911.2" r="2.95"/><circle cx="316.1" cy="926.3" r="2.95"/><circle cx="319.5" cy="933.0" r="2.95"/><circle cx="294.7" cy="941.9" r="2.95"/><circle cx="281.1" cy="950.4" r="2.95"/><circle cx="297.4" cy="941.2" r="2.95"/><circle cx="313.8" cy="927.2" r="2.95"/><circle cx="331.1" cy="915.1" r="2.95"/><circle cx="354.4" cy="926.8" r="2.95"/><circle cx="350.8" cy="931.8" r="2.95"/><circle cx="342.9" cy="933.8" r="2.95"/><circle cx="333.3" cy="936.7" r="2.95"/><circle cx="324.7" cy="932.0" r="2.95"/><circle cx="319.5" cy="928.6" r="2.95"/><circle cx="314.2" cy="926.9" r="2.95"/><circle cx="305.6" cy="934.3" r="2.95"/><circle cx="291.8" cy="950.7" r="2.95"/><circle cx="270.9" cy="960.1" r="2.95"/><circle cx="270.6" cy="972.4" r="2.95"/><circle cx="268.9" cy="990.8" r="2.95"/><circle cx="267.1" cy="1001.4" r="2.95"/><circle cx="267.1" cy="989.6" r="2.95"/><circle cx="264.6" cy="979.7" r="2.95"/><circle cx="258.7" cy="964.1" r="2.95"/><circle cx="253.2" cy="966.2" r="2.95"/><circle cx="260.0" cy="968.1" r="2.95"/><circle cx="267.7" cy="914.4" r="2.95"/><circle cx="277.1" cy="903.3" r="2.95"/><circle cx="287.6" cy="907.2" r="2.95"/><circle cx="298.0" cy="901.6" r="2.95"/><circle cx="303.5" cy="895.6" r="2.95"/><circle cx="321.4" cy="885.9" r="2.95"/><circle cx="351.7" cy="868.0" r="2.95"/><circle cx="393.4" cy="865.0" r="2.95"/><circle cx="403.5" cy="849.8" r="2.95"/><circle cx="411.3" cy="835.0" r="2.95"/><circle cx="417.1" cy="830.4" r="2.95"/><circle cx="391.3" cy="824.5" r="2.95"/><circle cx="383.4" cy="807.2" r="2.95"/><circle cx="351.2" cy="842.1" r="2.95"/><circle cx="306.7" cy="894.0" r="2.95"/><circle cx="255.8" cy="934.3" r="2.95"/><circle cx="221.8" cy="958.0" r="2.95"/><circle cx="228.2" cy="976.6" r="2.95"/><circle cx="245.2" cy="993.6" r="2.95"/><circle cx="272.3" cy="1007.3" r="2.95"/><circle cx="298.5" cy="1005.3" r="2.95"/><circle cx="298.5" cy="1006.1" r="2.95"/><circle cx="295.2" cy="1007.3" r="2.95"/><circle cx="267.2" cy="985.5" r="2.95"/><circle cx="240.7" cy="975.9" r="2.95"/><circle cx="217.5" cy="982.1" r="2.95"/><circle cx="194.5" cy="994.1" r="2.95"/><circle cx="163.2" cy="1011.2" r="2.95"/><circle cx="145.0" cy="997.5" r="2.95"/><circle cx="156.1" cy="1003.2" r="2.95"/><circle cx="176.4" cy="1011.7" r="2.95"/><circle cx="194.7" cy="1019.1" r="2.95"/><circle cx="211.3" cy="1021.0" r="2.95"/><circle cx="209.6" cy="1013.7" r="2.95"/><circle cx="207.8" cy="1005.0" r="2.95"/><circle cx="218.3" cy="999.4" r="2.95"/><circle cx="200.8" cy="1005.3" r="2.95"/><circle cx="167.4" cy="994.1" r="2.95"/><circle cx="162.9" cy="994.4" r="2.95"/><circle cx="155.5" cy="1001.3" r="2.95"/><circle cx="152.0" cy="1008.3" r="2.95"/><circle cx="152.0" cy="1014.3" r="2.95"/><circle cx="170.4" cy="1023.1" r="2.95"/><circle cx="184.5" cy="1036.7" r="2.95"/><circle cx="194.7" cy="1003.9" r="2.95"/><circle cx="203.6" cy="991.8" r="2.95"/><circle cx="216.6" cy="984.0" r="2.95"/><circle cx="231.9" cy="978.0" r="2.95"/><circle cx="240.6" cy="975.9" r="2.95"/><circle cx="242.7" cy="976.9" r="2.95"/><circle cx="241.2" cy="977.9" r="2.95"/><circle cx="230.9" cy="958.1" r="2.95"/><circle cx="220.2" cy="950.4" r="2.95"/><circle cx="214.8" cy="962.5" r="2.95"/><circle cx="225.9" cy="981.8" r="2.95"/><circle cx="231.1" cy="979.6" r="2.95"/><circle cx="234.3" cy="977.9" r="2.95"/><circle cx="239.2" cy="983.7" r="2.95"/><circle cx="246.3" cy="968.0" r="2.95"/><circle cx="248.0" cy="964.1" r="2.95"/><circle cx="247.0" cy="969.2" r="2.95"/><circle cx="241.8" cy="973.7" r="2.95"/><circle cx="231.6" cy="977.4" r="2.95"/><circle cx="221.8" cy="980.4" r="2.95"/><circle cx="225.7" cy="983.7" r="2.95"/><circle cx="228.8" cy="981.8" r="2.95"/><circle cx="214.4" cy="983.5" r="2.95"/><circle cx="209.2" cy="986.1" r="2.95"/><circle cx="204.0" cy="987.6" r="2.95"/><circle cx="200.9" cy="991.8" r="2.95"/><circle cx="207.8" cy="995.4" r="2.95"/><circle cx="207.8" cy="997.5" r="2.95"/><circle cx="204.1" cy="993.6" r="2.95"/><circle cx="200.9" cy="989.6" r="2.95"/><circle cx="200.7" cy="992.6" r="2.95"/><circle cx="197.0" cy="997.6" r="2.95"/><circle cx="193.9" cy="1003.4" r="2.95"/></g>
<line x1="110.2" y1="1051.3" x2="417.1" y2="849.8" stroke="#4472c4" stroke-width="2.9" stroke-dasharray="2.6 3.4" stroke-linecap="butt"/>
<rect x="459.3" y="1052.1" width="91.2" height="23.2" fill="#fff" stroke="#333" stroke-width="1.5"/>
<text x="504.9" y="1069.3" text-anchor="middle" class="r2">R² = 0.7558</text>
<text x="330.5" y="1107.9" text-anchor="middle" class="at">Predicted sc-PDSI values</text>
<text transform="translate(40.2 958.4) rotate(-90)" text-anchor="middle" class="at">Actual sc-PDSI values</text>
<path d="M625.4 791.2V1070.8M625.4 931.0H1131.5M620.9 1070.8H629.4M620.9 1042.8H629.4M620.9 1014.9H629.4M620.9 986.9H629.4M620.9 959.0H629.4M620.9 931.0H629.4M620.9 903.0H629.4M620.9 875.1H629.4M620.9 847.1H629.4M620.9 819.2H629.4M620.9 791.2H629.4M654.1 927.0V935.0M682.9 927.0V935.0M711.6 927.0V935.0M740.4 927.0V935.0M769.1 927.0V935.0M797.9 927.0V935.0M826.6 927.0V935.0M855.4 927.0V935.0M884.1 927.0V935.0M912.9 927.0V935.0M941.6 927.0V935.0M970.4 927.0V935.0M999.1 927.0V935.0M1027.9 927.0V935.0M1056.7 927.0V935.0M1085.4 927.0V935.0M1114.2 927.0V935.0" stroke="#3a3a3a" stroke-width="1.5" fill="none"/>
<text x="612.5" y="1075.0" text-anchor="end" class="tr">-5</text>
<text x="612.5" y="1047.1" text-anchor="end" class="tr">-4</text>
<text x="612.5" y="1019.1" text-anchor="end" class="tr">-3</text>
<text x="612.5" y="991.2" text-anchor="end" class="tr">-2</text>
<text x="612.5" y="963.2" text-anchor="end" class="tr">-1</text>
<text x="612.5" y="935.3" text-anchor="end" class="tr">0</text>
<text x="612.5" y="907.3" text-anchor="end" class="tr">1</text>
<text x="612.5" y="879.4" text-anchor="end" class="tr">2</text>
<text x="612.5" y="851.4" text-anchor="end" class="tr">3</text>
<text x="612.5" y="823.5" text-anchor="end" class="tr">4</text>
<text x="612.5" y="795.5" text-anchor="end" class="tr">5</text>
<text x="626.4" y="951.8" text-anchor="middle" class="tr">1</text>
<text x="654.1" y="951.8" text-anchor="middle" class="tr">21</text>
<text x="682.9" y="951.8" text-anchor="middle" class="tr">41</text>
<text x="711.6" y="951.8" text-anchor="middle" class="tr">61</text>
<text x="740.4" y="951.8" text-anchor="middle" class="tr">81</text>
<text x="769.1" y="951.8" text-anchor="middle" class="tr">101</text>
<text x="797.9" y="951.8" text-anchor="middle" class="tr">121</text>
<text x="826.6" y="951.8" text-anchor="middle" class="tr">141</text>
<text x="855.4" y="951.8" text-anchor="middle" class="tr">161</text>
<text x="884.1" y="951.8" text-anchor="middle" class="tr">181</text>
<text x="912.9" y="951.8" text-anchor="middle" class="tr">201</text>
<text x="941.6" y="951.8" text-anchor="middle" class="tr">221</text>
<text x="970.4" y="951.8" text-anchor="middle" class="tr">241</text>
<text x="999.1" y="951.8" text-anchor="middle" class="tr">261</text>
<text x="1027.9" y="951.8" text-anchor="middle" class="tr">281</text>
<text x="1056.7" y="951.8" text-anchor="middle" class="tr">301</text>
<text x="1085.4" y="951.8" text-anchor="middle" class="tr">321</text>
<text x="1114.2" y="951.8" text-anchor="middle" class="tr">341</text>
<polyline points="625.4,1023.1 626.8,1021.3 628.3,1019.0 629.7,1007.2 631.1,999.8 632.6,1035.5 634.0,1032.3 635.5,1028.7 636.9,1026.5 638.3,1013.7 639.8,1004.8 641.2,1002.4 642.6,1006.7 644.1,1013.4 645.5,1016.9 647.0,1010.7 648.4,1016.6 649.8,1019.4 651.3,1020.1 652.7,1021.1 654.1,1015.1 655.6,1006.0 657.0,1011.6 658.5,1017.9 659.9,1026.5 661.3,1033.4 662.8,1038.1 664.2,1036.7 665.6,1035.5 667.1,1035.1 668.5,1034.5 670.0,1037.5 671.4,1043.0 672.8,1049.2 674.3,1053.7 675.7,955.5 677.1,963.9 678.6,953.6 680.0,929.4 681.5,934.1 682.9,939.9 684.3,963.9 685.8,924.8 687.2,914.0 688.6,918.0 690.1,923.6 691.5,917.9 693.0,924.5 694.4,929.2 695.8,931.3 697.3,912.1 698.7,935.1 700.1,925.6 701.6,914.0 703.0,908.1 704.5,904.4 705.9,906.9 707.3,917.1 708.8,926.2 710.2,931.3 711.6,915.9 713.1,919.2 714.5,923.2 716.0,929.0 717.4,939.1 718.8,967.8 720.3,946.8 721.7,907.3 723.1,896.8 724.6,883.3 726.0,889.1 727.5,878.2 728.9,868.5 730.3,858.4 731.8,859.3 733.2,860.3 734.6,873.2 736.1,881.4 737.5,885.2 739.0,857.7 740.4,841.7 741.8,844.8 743.3,862.7 744.7,890.9 746.1,894.9 747.6,896.7 749.0,883.0 750.5,868.9 751.9,873.7 753.3,862.2 754.8,863.8 756.2,901.2 757.6,954.8 759.1,957.7 760.5,966.8 762.0,950.5 763.4,953.0 764.8,960.7 766.3,972.4 767.7,983.0 769.1,996.6 770.6,996.0 772.0,995.0 773.5,989.1 774.9,983.1 776.3,998.5 777.8,1002.9 779.2,1004.6 780.6,1005.2 782.1,1002.8 783.5,998.5 785.0,1010.4 786.4,1021.5 787.8,1027.3 789.3,1038.2 790.7,1040.7 792.1,1036.9 793.6,1049.4 795.0,1042.3 796.5,1031.1 797.9,1031.1 799.3,1042.6 800.8,983.5 802.2,881.4 803.6,896.9 805.1,918.8 806.5,929.4 808.0,906.3 809.4,915.9 810.8,895.8 812.3,876.3 813.7,860.5 815.1,850.7 816.6,854.5 818.0,852.4 819.5,850.7 820.9,864.1 822.3,854.5 823.8,856.8 825.2,858.4 826.6,836.8 828.1,815.2 829.5,824.1 831.0,838.3 832.4,850.3 833.8,857.6 835.3,869.9 836.7,859.8 838.1,821.9 839.6,855.4 841.0,970.5 842.5,973.5 843.9,984.9 845.3,989.5 846.8,990.5 848.2,993.8 849.6,999.8 851.1,1008.1 852.5,1004.2 854.0,1009.5 855.4,983.5 856.8,945.6 858.3,937.9 859.7,935.9 861.1,933.0 862.6,929.4 864.0,932.8 865.5,935.1 866.9,927.2 868.3,925.2 869.8,923.6 871.2,951.0 872.6,960.1 874.1,957.7 875.5,953.0 877.0,946.7 878.4,948.6 879.8,942.8 881.3,933.1 882.7,922.1 884.1,910.4 885.6,892.9 887.0,900.4 888.5,924.2 889.9,958.9 891.3,976.9 892.8,988.8 894.2,1004.0 895.6,1025.9 897.1,1034.4 898.5,1037.3 900.0,1038.3 901.4,1039.5 902.8,1040.7 904.3,1012.5 905.7,994.6 907.1,1003.3 908.6,1014.4 910.0,1022.8 911.5,1029.4 912.9,1038.1 914.3,1046.9 915.8,1059.9 917.2,1019.1 918.6,977.4 920.1,981.7 921.5,992.8 923.0,1002.3 924.4,951.8 925.8,905.8 927.3,903.6 928.7,892.9 930.1,902.5 931.6,897.7 933.0,895.6 934.5,894.8 935.9,904.8 937.3,908.3 938.8,903.4 940.2,896.8 941.6,884.2 943.1,875.6 944.5,899.5 946.0,952.5 947.4,965.9 948.8,964.1 950.3,962.0 951.7,963.9 953.1,963.9 954.6,958.2 956.0,951.9 957.5,950.5 958.9,963.9 960.3,954.3 961.8,969.7 963.2,939.7 964.6,910.6 966.1,895.8 967.5,908.8 969.0,927.5 970.4,914.6 971.8,900.6 973.3,935.7 974.7,940.9 976.1,898.9 977.6,889.1 979.0,901.5 980.5,925.5 981.9,918.1 983.3,910.2 984.8,908.3 986.2,923.1 987.6,929.6 989.1,938.4 990.5,946.7 992.0,937.7 993.4,924.0 994.8,912.1 996.3,923.6 997.7,928.4 999.1,930.4 1000.6,933.2 1002.0,928.7 1003.5,925.3 1004.9,923.6 1006.3,930.9 1007.8,947.0 1009.2,956.2 1010.6,968.2 1012.1,986.2 1013.5,996.6 1015.0,985.0 1016.4,975.3 1017.8,960.1 1019.3,962.1 1020.7,963.9 1022.1,911.4 1023.6,900.6 1025.0,904.4 1026.5,898.9 1027.9,893.1 1029.3,883.6 1030.8,866.0 1032.2,863.1 1033.7,848.2 1035.1,833.7 1036.5,829.2 1038.0,823.4 1039.4,806.5 1040.8,840.7 1042.3,891.5 1043.7,930.9 1045.2,954.1 1046.6,972.3 1048.0,988.9 1049.5,1002.3 1050.9,1000.4 1052.3,1001.2 1053.8,1002.3 1055.2,981.0 1056.7,971.6 1058.1,977.6 1059.5,989.5 1061.0,1006.2 1062.4,992.7 1063.8,998.4 1065.3,1006.6 1066.7,1013.9 1068.2,1015.8 1069.6,1008.6 1071.0,1000.1 1072.5,994.6 1073.9,1000.4 1075.3,989.4 1076.8,989.7 1078.2,996.5 1079.7,1003.3 1081.1,1009.2 1082.5,1017.8 1084.0,1031.1 1085.4,999.0 1086.8,987.2 1088.3,979.5 1089.7,973.7 1091.2,971.6 1092.6,972.6 1094.0,973.5 1095.5,954.2 1096.9,946.7 1098.3,958.5 1099.8,977.4 1101.2,975.2 1102.7,973.5 1104.1,979.3 1105.5,963.9 1107.0,960.1 1108.4,965.1 1109.8,969.4 1111.3,973.1 1112.7,976.0 1114.2,979.3 1115.6,977.4 1117.0,979.0 1118.5,981.6 1119.9,983.0 1121.3,987.2 1122.8,990.7 1124.2,992.7 1125.7,988.9 1127.1,985.0 1128.5,988.0 1130.0,992.9 1131.4,998.5" fill="none" stroke="#ff0000" stroke-width="2.9" stroke-linejoin="round"/>
<polyline points="625.4,1020.4 626.8,1017.5 628.3,1014.6 629.7,1012.7 631.1,1018.4 632.6,1026.2 634.0,1024.3 635.5,1022.3 636.9,1024.2 638.3,1027.1 639.8,1028.1 641.2,1028.5 642.6,1030.0 644.1,1027.2 645.5,1025.2 647.0,1024.2 648.4,1024.2 649.8,1021.5 651.3,1010.2 652.7,1003.0 654.1,1001.2 655.6,1001.2 657.0,1002.6 658.5,1003.1 659.9,1004.0 661.3,1006.9 662.8,1019.3 664.2,1033.7 665.6,1035.8 667.1,1030.2 668.5,1023.3 670.0,1020.5 671.4,1012.0 672.8,1004.3 674.3,995.8 675.7,984.3 677.1,978.3 678.6,971.7 680.0,966.5 681.5,980.3 682.9,981.9 684.3,965.7 685.8,956.5 687.2,950.5 688.6,946.9 690.1,945.5 691.5,934.0 693.0,931.0 694.4,929.1 695.8,928.1 697.3,928.1 698.7,933.3 700.1,955.0 701.6,944.8 703.0,926.8 704.5,916.5 705.9,927.8 707.3,935.0 708.8,939.6 710.2,941.5 711.6,940.3 713.1,933.8 714.5,935.1 716.0,938.1 717.4,944.0 718.8,956.4 720.3,966.8 721.7,968.5 723.1,961.1 724.6,952.3 726.0,946.0 727.5,943.3 728.9,941.9 730.3,932.7 731.8,918.7 733.2,902.9 734.6,901.2 736.1,903.1 737.5,905.0 739.0,898.8 740.4,891.5 741.8,892.6 743.3,897.1 744.7,907.9 746.1,916.5 747.6,898.1 749.0,888.2 750.5,879.8 751.9,875.5 753.3,874.2 754.8,876.4 756.2,882.6 757.6,898.8 759.1,916.7 760.5,934.6 762.0,943.7 763.4,953.6 764.8,961.9 766.3,967.0 767.7,968.5 769.1,966.5 770.6,976.3 772.0,986.9 773.5,991.5 774.9,993.5 776.3,981.8 777.8,972.1 779.2,967.7 780.6,964.6 782.1,972.8 783.5,982.2 785.0,990.1 786.4,1000.2 787.8,1012.8 789.3,1024.2 790.7,1031.9 792.1,1030.2 793.6,1026.2 795.0,1027.7 796.5,1030.0 797.9,1003.8 799.3,988.5 800.8,974.9 802.2,960.5 803.6,938.9 805.1,915.2 806.5,899.2 808.0,920.4 809.4,943.5 810.8,915.1 812.3,906.6 813.7,905.1 815.1,901.1 816.6,894.3 818.0,887.0 819.5,884.2 820.9,878.7 822.3,875.4 823.8,874.2 825.2,885.1 826.6,893.7 828.1,897.7 829.5,899.2 831.0,898.1 832.4,889.4 833.8,879.7 835.3,871.8 836.7,868.5 838.1,876.7 839.6,888.2 841.0,899.7 842.5,911.2 843.9,923.0 845.3,941.7 846.8,954.0 848.2,963.3 849.6,969.8 851.1,977.3 852.5,986.4 854.0,991.5 855.4,988.4 856.8,963.7 858.3,936.5 859.7,910.8 861.1,919.4 862.6,924.9 864.0,951.9 865.5,970.0 866.9,984.9 868.3,999.7 869.8,1003.1 871.2,987.1 872.6,972.7 874.1,960.6 875.5,954.8 877.0,947.1 878.4,936.4 879.8,922.8 881.3,914.6 882.7,930.2 884.1,940.1 885.6,941.6 887.0,945.9 888.5,948.3 889.9,951.6 891.3,958.8 892.8,966.1 894.2,991.2 895.6,1008.6 897.1,1019.3 898.5,1024.7 900.0,1026.2 901.4,1022.7 902.8,1015.8 904.3,1011.9 905.7,1008.8 907.1,999.2 908.6,1006.9 910.0,1016.3 911.5,1026.4 912.9,1037.7 914.3,1036.4 915.8,1033.4 917.2,1028.3 918.6,1019.6 920.1,1007.3 921.5,993.6 923.0,979.2 924.4,964.8 925.8,932.1 927.3,910.9 928.7,903.7 930.1,896.6 931.6,889.6 933.0,904.4 934.5,924.1 935.9,942.2 937.3,947.8 938.8,950.6 940.2,953.1 941.6,944.8 943.1,937.7 944.5,954.9 946.0,962.9 947.4,964.3 948.8,969.2 950.3,972.3 951.7,968.5 953.1,974.2 954.6,972.0 956.0,966.5 957.5,957.4 958.9,944.3 960.3,934.1 961.8,927.6 963.2,924.7 964.6,924.2 966.1,919.3 967.5,912.7 969.0,918.7 970.4,921.6 971.8,922.3 973.3,923.5 974.7,926.4 976.1,930.8 977.6,931.9 979.0,929.1 980.5,922.2 981.9,918.5 983.3,925.7 984.8,931.9 986.2,924.2 987.6,922.3 989.1,936.0 990.5,943.5 992.0,934.5 993.4,925.4 994.8,915.9 996.3,903.1 997.7,905.1 999.1,909.4 1000.6,914.7 1002.0,919.4 1003.5,922.3 1004.9,925.2 1006.3,930.0 1007.8,937.6 1009.2,949.1 1010.6,949.2 1012.1,950.2 1013.5,951.2 1015.0,951.2 1016.4,952.6 1017.8,955.8 1019.3,958.8 1020.7,955.1 1022.1,950.9 1023.6,945.7 1025.0,939.9 1026.5,934.1 1027.9,931.1 1029.3,921.2 1030.8,904.5 1032.2,881.5 1033.7,876.0 1035.1,871.7 1036.5,868.5 1038.0,882.7 1039.4,887.0 1040.8,904.8 1042.3,929.3 1043.7,957.4 1045.2,976.2 1046.6,972.6 1048.0,963.2 1049.5,948.3 1050.9,933.8 1052.3,933.8 1053.8,935.7 1055.2,951.1 1056.7,965.7 1058.1,978.5 1059.5,991.2 1061.0,1008.5 1062.4,1018.5 1063.8,1012.4 1065.3,1001.2 1066.7,991.1 1068.2,981.9 1069.6,982.8 1071.0,983.8 1072.5,978.1 1073.9,987.7 1075.3,1006.1 1076.8,1008.6 1078.2,1012.7 1079.7,1014.6 1081.1,1014.6 1082.5,1004.5 1084.0,996.7 1085.4,991.1 1086.8,986.2 1088.3,979.0 1089.7,970.6 1091.2,965.8 1092.6,964.6 1094.0,965.5 1095.5,971.1 1096.9,977.0 1098.3,980.0 1099.8,973.9 1101.2,971.0 1102.7,969.3 1104.1,966.6 1105.5,962.6 1107.0,961.7 1108.4,962.3 1109.8,965.1 1111.3,970.7 1112.7,976.2 1114.2,974.0 1115.6,972.3 1117.0,980.2 1118.5,983.1 1119.9,986.0 1121.3,987.7 1122.8,983.8 1124.2,983.8 1125.7,985.9 1127.1,987.7 1128.5,987.8 1130.0,989.8 1131.4,991.5" fill="none" stroke="#000" stroke-width="2.9" stroke-linejoin="round"/>
<line x1="692" y1="1095.8" x2="717.6" y2="1095.8" stroke="#ff0000" stroke-width="2.6"/>
<text x="720.6" y="1100.4" class="lg">Actual sc-PDSI values</text>
<line x1="880" y1="1095.8" x2="905.4" y2="1095.8" stroke="#000" stroke-width="2.6"/>
<text x="908.3" y="1100.4" class="lg">Predicted sc-PDSI values</text>
<text x="585.3" y="1139.6" text-anchor="middle" class="pl">(c)</text>
<path d="M50.2 1170.6V1456.2M100.9 1170.6V1456.2M151.6 1170.6V1456.2M202.3 1170.6V1456.2M253.0 1170.6V1456.2M354.4 1170.6V1456.2M405.1 1170.6V1456.2M455.8 1170.6V1456.2M506.5 1170.6V1456.2M557.2 1170.6V1456.2M50.2 1456.2H557.2M50.2 1427.6H557.2M50.2 1399.1H557.2M50.2 1370.5H557.2M50.2 1342.0H557.2M50.2 1284.8H557.2M50.2 1256.3H557.2M50.2 1227.7H557.2M50.2 1199.2H557.2M50.2 1170.6H557.2" stroke="#c2c2c2" stroke-width="1" stroke-dasharray="2.5 1.9" fill="none"/>
<path d="M50.2 1313.4H557.2M303.7 1170.6V1456.2M50.2 1309.4V1317.4M100.9 1309.4V1317.4M151.6 1309.4V1317.4M202.3 1309.4V1317.4M253.0 1309.4V1317.4M303.7 1309.4V1317.4M354.4 1309.4V1317.4M405.1 1309.4V1317.4M455.8 1309.4V1317.4M506.5 1309.4V1317.4M557.2 1309.4V1317.4M299.2 1456.2H308.2M299.2 1427.6H308.2M299.2 1399.1H308.2M299.2 1370.5H308.2M299.2 1342.0H308.2M299.2 1313.4H308.2M299.2 1284.8H308.2M299.2 1256.3H308.2M299.2 1227.7H308.2M299.2 1199.2H308.2M299.2 1170.6H308.2" stroke="#3a3a3a" stroke-width="1.6" fill="none"/>
<text x="50.2" y="1335.1" text-anchor="middle" class="tl">-5</text>
<text x="100.9" y="1335.1" text-anchor="middle" class="tl">-4</text>
<text x="151.6" y="1335.1" text-anchor="middle" class="tl">-3</text>
<text x="202.3" y="1335.1" text-anchor="middle" class="tl">-2</text>
<text x="253.0" y="1335.1" text-anchor="middle" class="tl">-1</text>
<text x="303.7" y="1335.1" text-anchor="middle" class="tl">0</text>
<text x="354.4" y="1335.1" text-anchor="middle" class="tl">1</text>
<text x="405.1" y="1335.1" text-anchor="middle" class="tl">2</text>
<text x="455.8" y="1335.1" text-anchor="middle" class="tl">3</text>
<text x="506.5" y="1335.1" text-anchor="middle" class="tl">4</text>
<text x="557.2" y="1335.1" text-anchor="middle" class="tl">5</text>
<text x="292.7" y="1461.2" text-anchor="end" class="tl">-5</text>
<text x="292.7" y="1432.6" text-anchor="end" class="tl">-4</text>
<text x="292.7" y="1404.1" text-anchor="end" class="tl">-3</text>
<text x="292.7" y="1375.5" text-anchor="end" class="tl">-2</text>
<text x="292.7" y="1347.0" text-anchor="end" class="tl">-1</text>
<text x="292.7" y="1289.8" text-anchor="end" class="tl">1</text>
<text x="292.7" y="1261.3" text-anchor="end" class="tl">2</text>
<text x="292.7" y="1232.7" text-anchor="end" class="tl">3</text>
<text x="292.7" y="1204.2" text-anchor="end" class="tl">4</text>
<text x="292.7" y="1175.6" text-anchor="end" class="tl">5</text>
<g fill="#ff0000" stroke="#100000" stroke-width="0.95"><circle cx="177.8" cy="1416.9" r="2.95"/><circle cx="176.4" cy="1413.2" r="2.95"/><circle cx="173.4" cy="1411.0" r="2.95"/><circle cx="154.0" cy="1397.9" r="2.95"/><circle cx="136.0" cy="1388.8" r="2.95"/><circle cx="137.9" cy="1386.4" r="2.95"/><circle cx="139.5" cy="1390.7" r="2.95"/><circle cx="133.7" cy="1397.6" r="2.95"/><circle cx="128.5" cy="1401.2" r="2.95"/><circle cx="124.1" cy="1394.8" r="2.95"/><circle cx="120.3" cy="1400.9" r="2.95"/><circle cx="129.5" cy="1403.7" r="2.95"/><circle cx="137.7" cy="1404.5" r="2.95"/><circle cx="147.0" cy="1405.4" r="2.95"/><circle cx="160.4" cy="1399.4" r="2.95"/><circle cx="151.6" cy="1390.1" r="2.95"/><circle cx="139.5" cy="1395.7" r="2.95"/><circle cx="154.8" cy="1402.2" r="2.95"/><circle cx="163.9" cy="1411.0" r="2.95"/><circle cx="163.9" cy="1418.1" r="2.95"/><circle cx="163.9" cy="1422.9" r="2.95"/><circle cx="167.3" cy="1421.4" r="2.95"/><circle cx="172.1" cy="1420.2" r="2.95"/><circle cx="176.1" cy="1419.8" r="2.95"/><circle cx="177.4" cy="1419.2" r="2.95"/><circle cx="178.7" cy="1422.2" r="2.95"/><circle cx="179.5" cy="1427.8" r="2.95"/><circle cx="168.6" cy="1434.2" r="2.95"/><circle cx="163.9" cy="1438.7" r="2.95"/><circle cx="189.7" cy="1338.4" r="2.95"/><circle cx="205.6" cy="1347.1" r="2.95"/><circle cx="211.2" cy="1336.5" r="2.95"/><circle cx="212.6" cy="1311.7" r="2.95"/><circle cx="198.7" cy="1316.5" r="2.95"/><circle cx="216.9" cy="1322.5" r="2.95"/><circle cx="221.8" cy="1347.1" r="2.95"/><circle cx="229.9" cy="1307.1" r="2.95"/><circle cx="244.7" cy="1296.1" r="2.95"/><circle cx="265.9" cy="1300.1" r="2.95"/><circle cx="270.7" cy="1305.9" r="2.95"/><circle cx="276.4" cy="1300.0" r="2.95"/><circle cx="282.3" cy="1306.8" r="2.95"/><circle cx="275.3" cy="1311.6" r="2.95"/><circle cx="296.2" cy="1313.7" r="2.95"/><circle cx="286.3" cy="1294.1" r="2.95"/><circle cx="283.2" cy="1317.6" r="2.95"/><circle cx="265.0" cy="1307.9" r="2.95"/><circle cx="244.8" cy="1296.0" r="2.95"/><circle cx="237.0" cy="1290.0" r="2.95"/><circle cx="245.1" cy="1286.2" r="2.95"/><circle cx="254.9" cy="1288.7" r="2.95"/><circle cx="265.5" cy="1299.2" r="2.95"/><circle cx="274.2" cy="1308.5" r="2.95"/><circle cx="285.5" cy="1313.7" r="2.95"/><circle cx="299.7" cy="1298.0" r="2.95"/><circle cx="288.0" cy="1301.3" r="2.95"/><circle cx="277.4" cy="1305.5" r="2.95"/><circle cx="250.9" cy="1311.4" r="2.95"/><circle cx="268.3" cy="1321.7" r="2.95"/><circle cx="265.7" cy="1351.0" r="2.95"/><circle cx="260.9" cy="1329.5" r="2.95"/><circle cx="258.2" cy="1289.1" r="2.95"/><circle cx="253.3" cy="1278.4" r="2.95"/><circle cx="249.4" cy="1264.7" r="2.95"/><circle cx="244.9" cy="1270.6" r="2.95"/><circle cx="233.5" cy="1259.4" r="2.95"/><circle cx="250.7" cy="1249.6" r="2.95"/><circle cx="261.1" cy="1239.2" r="2.95"/><circle cx="268.0" cy="1240.1" r="2.95"/><circle cx="278.6" cy="1241.1" r="2.95"/><circle cx="286.6" cy="1254.3" r="2.95"/><circle cx="289.2" cy="1262.8" r="2.95"/><circle cx="290.5" cy="1266.6" r="2.95"/><circle cx="294.0" cy="1238.5" r="2.95"/><circle cx="304.0" cy="1222.1" r="2.95"/><circle cx="321.1" cy="1225.3" r="2.95"/><circle cx="324.0" cy="1243.6" r="2.95"/><circle cx="318.9" cy="1272.5" r="2.95"/><circle cx="316.2" cy="1276.5" r="2.95"/><circle cx="315.3" cy="1278.4" r="2.95"/><circle cx="317.4" cy="1264.3" r="2.95"/><circle cx="322.7" cy="1250.0" r="2.95"/><circle cx="325.0" cy="1254.9" r="2.95"/><circle cx="327.5" cy="1243.1" r="2.95"/><circle cx="332.3" cy="1244.8" r="2.95"/><circle cx="344.9" cy="1282.9" r="2.95"/><circle cx="343.9" cy="1337.7" r="2.95"/><circle cx="343.2" cy="1340.7" r="2.95"/><circle cx="348.4" cy="1350.0" r="2.95"/><circle cx="332.8" cy="1333.3" r="2.95"/><circle cx="294.4" cy="1335.9" r="2.95"/><circle cx="262.2" cy="1343.8" r="2.95"/><circle cx="237.8" cy="1355.7" r="2.95"/><circle cx="211.3" cy="1366.5" r="2.95"/><circle cx="188.2" cy="1380.4" r="2.95"/><circle cx="189.8" cy="1379.8" r="2.95"/><circle cx="197.8" cy="1378.8" r="2.95"/><circle cx="219.0" cy="1372.8" r="2.95"/><circle cx="244.0" cy="1366.7" r="2.95"/><circle cx="242.2" cy="1382.4" r="2.95"/><circle cx="233.2" cy="1386.8" r="2.95"/><circle cx="212.3" cy="1388.6" r="2.95"/><circle cx="198.7" cy="1389.2" r="2.95"/><circle cx="213.8" cy="1386.7" r="2.95"/><circle cx="234.5" cy="1382.4" r="2.95"/><circle cx="257.9" cy="1394.5" r="2.95"/><circle cx="236.2" cy="1405.8" r="2.95"/><circle cx="228.0" cy="1411.8" r="2.95"/><circle cx="212.2" cy="1422.9" r="2.95"/><circle cx="184.4" cy="1425.5" r="2.95"/><circle cx="181.3" cy="1421.6" r="2.95"/><circle cx="183.5" cy="1434.3" r="2.95"/><circle cx="191.5" cy="1427.1" r="2.95"/><circle cx="203.7" cy="1415.7" r="2.95"/><circle cx="211.7" cy="1415.7" r="2.95"/><circle cx="224.2" cy="1427.5" r="2.95"/><circle cx="243.4" cy="1367.0" r="2.95"/><circle cx="264.0" cy="1262.7" r="2.95"/><circle cx="274.6" cy="1278.6" r="2.95"/><circle cx="285.2" cy="1300.9" r="2.95"/><circle cx="290.9" cy="1311.7" r="2.95"/><circle cx="293.5" cy="1288.2" r="2.95"/><circle cx="296.2" cy="1298.0" r="2.95"/><circle cx="296.2" cy="1277.4" r="2.95"/><circle cx="317.6" cy="1257.5" r="2.95"/><circle cx="345.6" cy="1241.3" r="2.95"/><circle cx="365.9" cy="1231.3" r="2.95"/><circle cx="368.6" cy="1235.2" r="2.95"/><circle cx="414.6" cy="1233.1" r="2.95"/><circle cx="404.4" cy="1231.3" r="2.95"/><circle cx="379.5" cy="1245.1" r="2.95"/><circle cx="376.3" cy="1235.2" r="2.95"/><circle cx="381.5" cy="1237.6" r="2.95"/><circle cx="385.0" cy="1239.2" r="2.95"/><circle cx="364.2" cy="1217.2" r="2.95"/><circle cx="353.6" cy="1195.0" r="2.95"/><circle cx="351.9" cy="1204.1" r="2.95"/><circle cx="349.1" cy="1218.7" r="2.95"/><circle cx="343.3" cy="1230.9" r="2.95"/><circle cx="335.3" cy="1238.4" r="2.95"/><circle cx="327.4" cy="1250.9" r="2.95"/><circle cx="317.9" cy="1240.6" r="2.95"/><circle cx="308.0" cy="1201.9" r="2.95"/><circle cx="299.7" cy="1236.2" r="2.95"/><circle cx="307.2" cy="1353.8" r="2.95"/><circle cx="316.8" cy="1356.8" r="2.95"/><circle cx="324.0" cy="1368.5" r="2.95"/><circle cx="303.1" cy="1373.2" r="2.95"/><circle cx="292.5" cy="1374.2" r="2.95"/><circle cx="278.3" cy="1377.6" r="2.95"/><circle cx="264.4" cy="1383.7" r="2.95"/><circle cx="253.8" cy="1392.2" r="2.95"/><circle cx="240.5" cy="1388.2" r="2.95"/><circle cx="249.2" cy="1393.6" r="2.95"/><circle cx="257.4" cy="1367.0" r="2.95"/><circle cx="265.0" cy="1328.3" r="2.95"/><circle cx="279.6" cy="1320.5" r="2.95"/><circle cx="292.8" cy="1318.4" r="2.95"/><circle cx="301.1" cy="1315.4" r="2.95"/><circle cx="306.3" cy="1311.7" r="2.95"/><circle cx="308.4" cy="1315.2" r="2.95"/><circle cx="302.8" cy="1317.6" r="2.95"/><circle cx="297.5" cy="1309.5" r="2.95"/><circle cx="253.7" cy="1307.5" r="2.95"/><circle cx="224.2" cy="1305.9" r="2.95"/><circle cx="200.4" cy="1333.8" r="2.95"/><circle cx="205.3" cy="1343.1" r="2.95"/><circle cx="209.1" cy="1340.7" r="2.95"/><circle cx="209.7" cy="1335.9" r="2.95"/><circle cx="212.4" cy="1329.4" r="2.95"/><circle cx="231.9" cy="1331.4" r="2.95"/><circle cx="262.5" cy="1325.4" r="2.95"/><circle cx="295.3" cy="1315.5" r="2.95"/><circle cx="311.9" cy="1304.3" r="2.95"/><circle cx="310.2" cy="1292.4" r="2.95"/><circle cx="305.3" cy="1274.5" r="2.95"/><circle cx="300.0" cy="1282.1" r="2.95"/><circle cx="293.0" cy="1306.5" r="2.95"/><circle cx="269.4" cy="1341.9" r="2.95"/><circle cx="225.5" cy="1360.3" r="2.95"/><circle cx="204.4" cy="1372.5" r="2.95"/><circle cx="177.8" cy="1388.0" r="2.95"/><circle cx="177.8" cy="1410.3" r="2.95"/><circle cx="185.9" cy="1419.1" r="2.95"/><circle cx="194.7" cy="1422.0" r="2.95"/><circle cx="200.4" cy="1423.0" r="2.95"/><circle cx="173.1" cy="1424.3" r="2.95"/><circle cx="122.1" cy="1425.5" r="2.95"/><circle cx="134.3" cy="1396.7" r="2.95"/><circle cx="146.5" cy="1378.4" r="2.95"/><circle cx="137.2" cy="1387.3" r="2.95"/><circle cx="132.5" cy="1398.6" r="2.95"/><circle cx="130.2" cy="1407.2" r="2.95"/><circle cx="122.1" cy="1413.9" r="2.95"/><circle cx="148.0" cy="1422.9" r="2.95"/><circle cx="162.2" cy="1431.8" r="2.95"/><circle cx="167.7" cy="1445.1" r="2.95"/><circle cx="175.5" cy="1403.4" r="2.95"/><circle cx="191.4" cy="1360.8" r="2.95"/><circle cx="204.7" cy="1365.2" r="2.95"/><circle cx="221.5" cy="1376.6" r="2.95"/><circle cx="242.8" cy="1386.3" r="2.95"/><circle cx="270.9" cy="1334.6" r="2.95"/><circle cx="321.1" cy="1287.6" r="2.95"/><circle cx="332.3" cy="1285.4" r="2.95"/><circle cx="353.5" cy="1274.5" r="2.95"/><circle cx="370.7" cy="1284.3" r="2.95"/><circle cx="385.0" cy="1279.4" r="2.95"/><circle cx="376.0" cy="1277.2" r="2.95"/><circle cx="356.4" cy="1276.4" r="2.95"/><circle cx="333.7" cy="1286.7" r="2.95"/><circle cx="287.2" cy="1290.2" r="2.95"/><circle cx="263.4" cy="1285.2" r="2.95"/><circle cx="253.0" cy="1278.5" r="2.95"/><circle cx="246.3" cy="1265.6" r="2.95"/><circle cx="226.5" cy="1256.8" r="2.95"/><circle cx="254.4" cy="1281.2" r="2.95"/><circle cx="244.6" cy="1335.4" r="2.95"/><circle cx="229.7" cy="1349.0" r="2.95"/><circle cx="205.7" cy="1347.2" r="2.95"/><circle cx="214.6" cy="1345.1" r="2.95"/><circle cx="224.3" cy="1347.0" r="2.95"/><circle cx="227.6" cy="1347.1" r="2.95"/><circle cx="230.0" cy="1341.2" r="2.95"/><circle cx="205.7" cy="1334.8" r="2.95"/><circle cx="226.8" cy="1333.3" r="2.95"/><circle cx="237.4" cy="1347.1" r="2.95"/><circle cx="253.6" cy="1337.2" r="2.95"/><circle cx="276.3" cy="1352.9" r="2.95"/><circle cx="303.9" cy="1322.3" r="2.95"/><circle cx="313.1" cy="1292.5" r="2.95"/><circle cx="316.4" cy="1277.4" r="2.95"/><circle cx="317.1" cy="1290.8" r="2.95"/><circle cx="317.1" cy="1309.8" r="2.95"/><circle cx="311.9" cy="1296.6" r="2.95"/><circle cx="334.5" cy="1282.3" r="2.95"/><circle cx="311.9" cy="1318.2" r="2.95"/><circle cx="317.2" cy="1323.5" r="2.95"/><circle cx="319.9" cy="1280.6" r="2.95"/><circle cx="326.4" cy="1270.6" r="2.95"/><circle cx="331.0" cy="1283.2" r="2.95"/><circle cx="300.5" cy="1307.8" r="2.95"/><circle cx="295.7" cy="1300.2" r="2.95"/><circle cx="292.7" cy="1292.1" r="2.95"/><circle cx="308.9" cy="1290.2" r="2.95"/><circle cx="323.0" cy="1305.3" r="2.95"/><circle cx="331.0" cy="1312.0" r="2.95"/><circle cx="307.9" cy="1320.9" r="2.95"/><circle cx="289.2" cy="1329.4" r="2.95"/><circle cx="295.7" cy="1320.2" r="2.95"/><circle cx="306.3" cy="1306.2" r="2.95"/><circle cx="316.9" cy="1294.1" r="2.95"/><circle cx="324.9" cy="1305.8" r="2.95"/><circle cx="331.1" cy="1310.8" r="2.95"/><circle cx="337.3" cy="1312.8" r="2.95"/><circle cx="345.2" cy="1315.7" r="2.95"/><circle cx="350.4" cy="1311.0" r="2.95"/><circle cx="365.8" cy="1307.6" r="2.95"/><circle cx="351.9" cy="1305.9" r="2.95"/><circle cx="353.9" cy="1313.3" r="2.95"/><circle cx="355.4" cy="1329.7" r="2.95"/><circle cx="316.1" cy="1339.1" r="2.95"/><circle cx="308.2" cy="1351.4" r="2.95"/><circle cx="300.2" cy="1369.8" r="2.95"/><circle cx="293.6" cy="1380.4" r="2.95"/><circle cx="287.4" cy="1368.6" r="2.95"/><circle cx="275.3" cy="1358.7" r="2.95"/><circle cx="282.3" cy="1343.1" r="2.95"/><circle cx="280.8" cy="1345.2" r="2.95"/><circle cx="278.2" cy="1347.1" r="2.95"/><circle cx="275.3" cy="1293.4" r="2.95"/><circle cx="285.0" cy="1282.3" r="2.95"/><circle cx="289.2" cy="1286.2" r="2.95"/><circle cx="291.5" cy="1280.6" r="2.95"/><circle cx="299.7" cy="1274.6" r="2.95"/><circle cx="292.0" cy="1264.9" r="2.95"/><circle cx="289.2" cy="1247.0" r="2.95"/><circle cx="297.4" cy="1244.0" r="2.95"/><circle cx="321.1" cy="1228.8" r="2.95"/><circle cx="342.3" cy="1214.0" r="2.95"/><circle cx="352.2" cy="1209.4" r="2.95"/><circle cx="357.5" cy="1203.5" r="2.95"/><circle cx="362.7" cy="1186.2" r="2.95"/><circle cx="369.3" cy="1221.1" r="2.95"/><circle cx="361.0" cy="1273.0" r="2.95"/><circle cx="335.2" cy="1313.3" r="2.95"/><circle cx="297.0" cy="1337.0" r="2.95"/><circle cx="252.0" cy="1355.6" r="2.95"/><circle cx="222.2" cy="1372.6" r="2.95"/><circle cx="202.4" cy="1386.3" r="2.95"/><circle cx="195.2" cy="1384.3" r="2.95"/><circle cx="209.9" cy="1385.1" r="2.95"/><circle cx="216.1" cy="1386.3" r="2.95"/><circle cx="216.1" cy="1364.5" r="2.95"/><circle cx="205.7" cy="1354.9" r="2.95"/><circle cx="215.0" cy="1361.1" r="2.95"/><circle cx="226.5" cy="1373.1" r="2.95"/><circle cx="213.1" cy="1390.2" r="2.95"/><circle cx="184.7" cy="1376.5" r="2.95"/><circle cx="146.5" cy="1382.2" r="2.95"/><circle cx="152.2" cy="1390.7" r="2.95"/><circle cx="172.1" cy="1398.1" r="2.95"/><circle cx="205.9" cy="1400.0" r="2.95"/><circle cx="208.6" cy="1392.7" r="2.95"/><circle cx="213.3" cy="1384.0" r="2.95"/><circle cx="217.3" cy="1378.4" r="2.95"/><circle cx="221.6" cy="1384.3" r="2.95"/><circle cx="230.0" cy="1373.1" r="2.95"/><circle cx="223.1" cy="1373.4" r="2.95"/><circle cx="218.5" cy="1380.3" r="2.95"/><circle cx="212.2" cy="1387.3" r="2.95"/><circle cx="210.7" cy="1393.3" r="2.95"/><circle cx="203.5" cy="1402.1" r="2.95"/><circle cx="196.6" cy="1415.7" r="2.95"/><circle cx="191.7" cy="1382.9" r="2.95"/><circle cx="191.7" cy="1370.8" r="2.95"/><circle cx="191.7" cy="1363.0" r="2.95"/><circle cx="200.1" cy="1357.0" r="2.95"/><circle cx="216.6" cy="1354.9" r="2.95"/><circle cx="240.4" cy="1355.9" r="2.95"/><circle cx="256.3" cy="1356.9" r="2.95"/><circle cx="271.8" cy="1337.1" r="2.95"/><circle cx="264.7" cy="1329.4" r="2.95"/><circle cx="253.8" cy="1341.5" r="2.95"/><circle cx="247.4" cy="1360.8" r="2.95"/><circle cx="252.0" cy="1358.6" r="2.95"/><circle cx="268.3" cy="1356.9" r="2.95"/><circle cx="260.2" cy="1362.7" r="2.95"/><circle cx="253.2" cy="1347.0" r="2.95"/><circle cx="250.9" cy="1343.1" r="2.95"/><circle cx="257.9" cy="1348.2" r="2.95"/><circle cx="247.0" cy="1352.7" r="2.95"/><circle cx="236.5" cy="1356.4" r="2.95"/><circle cx="227.0" cy="1359.4" r="2.95"/><circle cx="211.1" cy="1362.7" r="2.95"/><circle cx="195.2" cy="1360.8" r="2.95"/><circle cx="188.2" cy="1362.5" r="2.95"/><circle cx="188.2" cy="1365.1" r="2.95"/><circle cx="188.2" cy="1366.6" r="2.95"/><circle cx="212.6" cy="1370.8" r="2.95"/><circle cx="209.4" cy="1374.4" r="2.95"/><circle cx="204.1" cy="1376.5" r="2.95"/><circle cx="198.8" cy="1372.6" r="2.95"/><circle cx="174.3" cy="1368.6" r="2.95"/><circle cx="183.2" cy="1371.6" r="2.95"/><circle cx="191.7" cy="1376.6" r="2.95"/><circle cx="191.7" cy="1382.4" r="2.95"/></g>
<line x1="120.3" y1="1429.2" x2="414.6" y2="1220.0" stroke="#4472c4" stroke-width="2.9" stroke-dasharray="2.6 3.4" stroke-linecap="butt"/>
<rect x="459.3" y="1430.9" width="91.2" height="23.3" fill="#fff" stroke="#333" stroke-width="1.5"/>
<text x="504.9" y="1448.2" text-anchor="middle" class="r2">R² = 0.6168</text>
<text x="330.5" y="1486.8" text-anchor="middle" class="at">Predicted sc-PDSI values</text>
<text transform="translate(40.2 1337.3) rotate(-90)" text-anchor="middle" class="at">Actual sc-PDSI values</text>
<path d="M625.4 1169.7V1449.7M625.4 1309.7H1131.5M620.9 1449.7H629.4M620.9 1421.7H629.4M620.9 1393.7H629.4M620.9 1365.7H629.4M620.9 1337.7H629.4M620.9 1309.7H629.4M620.9 1281.7H629.4M620.9 1253.7H629.4M620.9 1225.7H629.4M620.9 1197.7H629.4M620.9 1169.7H629.4M655.0 1305.7V1313.7M684.3 1305.7V1313.7M713.5 1305.7V1313.7M742.8 1305.7V1313.7M772.0 1305.7V1313.7M801.3 1305.7V1313.7M830.5 1305.7V1313.7M859.8 1305.7V1313.7M889.0 1305.7V1313.7M918.3 1305.7V1313.7M947.5 1305.7V1313.7M976.8 1305.7V1313.7M1006.0 1305.7V1313.7M1035.3 1305.7V1313.7M1064.5 1305.7V1313.7M1093.8 1305.7V1313.7M1123.0 1305.7V1313.7" stroke="#3a3a3a" stroke-width="1.5" fill="none"/>
<text x="612.5" y="1454.0" text-anchor="end" class="tr">-5</text>
<text x="612.5" y="1426.0" text-anchor="end" class="tr">-4</text>
<text x="612.5" y="1398.0" text-anchor="end" class="tr">-3</text>
<text x="612.5" y="1370.0" text-anchor="end" class="tr">-2</text>
<text x="612.5" y="1342.0" text-anchor="end" class="tr">-1</text>
<text x="612.5" y="1314.0" text-anchor="end" class="tr">0</text>
<text x="612.5" y="1286.0" text-anchor="end" class="tr">1</text>
<text x="612.5" y="1258.0" text-anchor="end" class="tr">2</text>
<text x="612.5" y="1230.0" text-anchor="end" class="tr">3</text>
<text x="612.5" y="1202.0" text-anchor="end" class="tr">4</text>
<text x="612.5" y="1174.0" text-anchor="end" class="tr">5</text>
<text x="626.4" y="1330.5" text-anchor="middle" class="tr">1</text>
<text x="655.0" y="1330.5" text-anchor="middle" class="tr">21</text>
<text x="684.3" y="1330.5" text-anchor="middle" class="tr">41</text>
<text x="713.5" y="1330.5" text-anchor="middle" class="tr">61</text>
<text x="742.8" y="1330.5" text-anchor="middle" class="tr">81</text>
<text x="772.0" y="1330.5" text-anchor="middle" class="tr">101</text>
<text x="801.3" y="1330.5" text-anchor="middle" class="tr">121</text>
<text x="830.5" y="1330.5" text-anchor="middle" class="tr">141</text>
<text x="859.8" y="1330.5" text-anchor="middle" class="tr">161</text>
<text x="889.0" y="1330.5" text-anchor="middle" class="tr">181</text>
<text x="918.3" y="1330.5" text-anchor="middle" class="tr">201</text>
<text x="947.5" y="1330.5" text-anchor="middle" class="tr">221</text>
<text x="976.8" y="1330.5" text-anchor="middle" class="tr">241</text>
<text x="1006.0" y="1330.5" text-anchor="middle" class="tr">261</text>
<text x="1035.3" y="1330.5" text-anchor="middle" class="tr">281</text>
<text x="1064.5" y="1330.5" text-anchor="middle" class="tr">301</text>
<text x="1093.8" y="1330.5" text-anchor="middle" class="tr">321</text>
<text x="1123.0" y="1330.5" text-anchor="middle" class="tr">341</text>
<polyline points="625.8,1411.2 627.3,1407.5 628.7,1405.4 630.2,1392.5 631.6,1383.6 633.1,1381.3 634.6,1385.5 636.0,1392.2 637.5,1395.8 639.0,1389.5 640.4,1395.5 641.9,1398.3 643.3,1399.0 644.8,1399.9 646.3,1394.0 647.7,1384.9 649.2,1390.4 650.7,1396.7 652.1,1405.4 653.6,1412.3 655.0,1417.0 656.5,1415.6 658.0,1414.4 659.4,1414.0 660.9,1413.4 662.4,1416.4 663.8,1421.9 665.3,1428.1 666.7,1432.6 668.2,1334.2 669.7,1342.7 671.1,1332.3 672.6,1308.1 674.1,1312.8 675.5,1318.6 677.0,1342.7 678.4,1303.5 679.9,1292.7 681.4,1296.7 682.8,1302.3 684.3,1296.5 685.8,1303.2 687.2,1307.9 688.7,1310.0 690.1,1290.8 691.6,1313.8 693.1,1304.3 694.5,1292.6 696.0,1286.8 697.5,1283.1 698.9,1285.5 700.4,1295.8 701.8,1304.9 703.3,1310.0 704.8,1294.6 706.2,1297.8 707.7,1301.9 709.2,1307.7 710.6,1317.8 712.1,1346.5 713.5,1325.5 715.0,1285.9 716.5,1275.4 717.9,1261.9 719.4,1267.7 720.9,1256.8 722.3,1247.1 723.8,1236.9 725.2,1237.9 726.7,1238.8 728.2,1251.8 729.6,1260.1 731.1,1263.8 732.6,1236.3 734.0,1220.2 735.5,1223.3 736.9,1241.2 738.4,1269.6 739.9,1273.5 741.3,1275.4 742.8,1261.6 744.3,1247.5 745.7,1252.3 747.2,1240.8 748.6,1242.4 750.1,1279.8 751.6,1333.5 753.0,1336.4 754.5,1345.6 756.0,1329.2 757.4,1331.8 758.9,1339.5 760.3,1351.2 761.8,1361.8 763.3,1375.4 764.7,1374.8 766.2,1373.8 767.7,1367.9 769.1,1361.9 770.6,1377.3 772.0,1381.7 773.5,1383.4 775.0,1384.0 776.4,1381.6 777.9,1377.3 779.4,1389.2 780.8,1400.3 782.3,1406.2 783.7,1417.1 785.2,1419.6 786.7,1415.8 788.1,1428.3 789.6,1421.2 791.1,1410.0 792.5,1410.0 794.0,1421.5 795.4,1362.3 796.9,1260.0 798.4,1275.5 799.8,1297.4 801.3,1308.1 802.8,1285.0 804.2,1294.6 805.7,1274.4 807.1,1254.9 808.6,1239.0 810.1,1229.2 811.5,1233.1 813.0,1230.9 814.4,1229.2 815.9,1242.7 817.4,1233.1 818.8,1235.4 820.3,1236.9 821.8,1215.4 823.2,1193.7 824.7,1202.6 826.1,1216.9 827.6,1228.8 829.1,1236.1 830.5,1248.5 832.0,1238.3 833.5,1200.4 834.9,1234.0 836.4,1349.3 837.8,1352.2 839.3,1363.7 840.8,1368.3 842.2,1369.3 843.7,1372.6 845.2,1378.7 846.6,1386.9 848.1,1383.1 849.5,1388.4 851.0,1362.3 852.5,1324.3 853.9,1316.6 855.4,1314.6 856.9,1311.7 858.3,1308.1 859.8,1311.5 861.2,1313.8 862.7,1305.9 864.2,1303.9 865.6,1302.3 867.1,1329.7 868.6,1338.8 870.0,1336.5 871.5,1331.8 872.9,1325.4 874.4,1327.3 875.9,1321.5 877.3,1311.8 878.8,1300.8 880.3,1289.1 881.7,1271.5 883.2,1279.0 884.6,1302.9 886.1,1337.7 887.6,1355.7 889.0,1367.6 890.5,1382.8 892.0,1404.7 893.4,1413.3 894.9,1416.2 896.3,1417.2 897.8,1418.4 899.3,1419.6 900.7,1391.3 902.2,1373.5 903.7,1382.1 905.1,1393.3 906.6,1401.7 908.0,1408.3 909.5,1417.0 911.0,1425.8 912.4,1438.8 913.9,1397.9 915.4,1356.2 916.8,1360.5 918.3,1371.6 919.7,1381.2 921.2,1330.5 922.7,1284.4 924.1,1282.3 925.6,1271.5 927.1,1281.2 928.5,1276.4 930.0,1274.3 931.4,1273.5 932.9,1283.5 934.4,1286.9 935.8,1282.1 937.3,1275.5 938.8,1262.8 940.2,1254.2 941.7,1278.1 943.1,1331.3 944.6,1344.6 946.1,1342.9 947.5,1340.8 949.0,1342.6 950.5,1342.7 951.9,1337.0 953.4,1330.7 954.8,1329.2 956.3,1342.7 957.8,1333.1 959.2,1348.5 960.7,1318.4 962.2,1289.2 963.6,1274.4 965.1,1287.5 966.5,1306.2 968.0,1293.3 969.5,1279.2 970.9,1314.4 972.4,1319.6 973.9,1277.5 975.3,1267.7 976.8,1280.1 978.2,1304.2 979.7,1296.8 981.2,1288.8 982.6,1286.9 984.1,1301.7 985.6,1308.3 987.0,1317.1 988.5,1325.4 989.9,1316.4 991.4,1302.6 992.9,1290.8 994.3,1302.3 995.8,1307.1 997.2,1309.1 998.7,1311.9 1000.2,1307.4 1001.6,1304.0 1003.1,1302.3 1004.6,1309.6 1006.0,1325.7 1007.5,1334.9 1008.9,1347.0 1010.4,1365.0 1011.9,1375.4 1013.3,1363.8 1014.8,1354.1 1016.3,1338.8 1017.7,1340.8 1019.2,1342.7 1020.6,1290.1 1022.1,1279.2 1023.6,1283.1 1025.0,1277.6 1026.5,1271.7 1028.0,1262.2 1029.4,1244.6 1030.9,1241.7 1032.3,1226.8 1033.8,1212.2 1035.3,1207.8 1036.7,1201.9 1038.2,1185.0 1039.7,1219.3 1041.1,1270.1 1042.6,1309.6 1044.0,1332.8 1045.5,1351.1 1047.0,1367.7 1048.4,1381.2 1049.9,1379.2 1051.4,1380.0 1052.8,1381.2 1054.3,1359.8 1055.7,1350.4 1057.2,1356.4 1058.7,1368.3 1060.1,1385.0 1061.6,1371.5 1063.1,1377.2 1064.5,1385.5 1066.0,1392.7 1067.4,1394.6 1068.9,1387.5 1070.4,1378.9 1071.8,1373.5 1073.3,1379.2 1074.8,1368.2 1076.2,1368.5 1077.7,1375.3 1079.1,1382.2 1080.6,1388.1 1082.1,1396.7 1083.5,1410.0 1085.0,1377.8 1086.5,1366.0 1087.9,1358.3 1089.4,1352.5 1090.8,1350.4 1092.3,1351.3 1093.8,1352.3 1095.2,1332.9 1096.7,1325.4 1098.2,1337.3 1099.6,1356.2 1101.1,1354.0 1102.5,1352.3 1104.0,1358.1 1105.5,1342.6 1106.9,1338.8 1108.4,1343.8 1109.9,1348.2 1111.3,1351.9 1112.8,1354.8 1114.2,1358.1 1115.7,1356.2 1117.2,1357.8 1118.6,1360.4 1120.1,1361.8 1121.6,1366.0 1123.0,1369.5 1124.5,1371.5 1125.9,1367.7 1127.4,1363.8 1128.9,1366.8 1130.3,1371.7 1131.8,1377.3" fill="none" stroke="#ff0000" stroke-width="2.9" stroke-linejoin="round"/>
<polyline points="625.8,1379.2 627.3,1380.0 628.7,1381.7 630.2,1392.4 631.6,1402.3 633.1,1401.3 634.6,1400.4 636.0,1403.6 637.5,1406.5 639.0,1408.9 640.4,1411.0 641.9,1405.9 643.3,1401.4 644.8,1396.2 646.3,1388.8 647.7,1393.7 649.2,1400.4 650.7,1391.9 652.1,1386.9 653.6,1386.9 655.0,1386.9 656.5,1385.1 658.0,1382.4 659.4,1380.2 660.9,1379.5 662.4,1378.7 663.8,1378.3 665.3,1384.3 666.7,1386.9 668.2,1372.7 669.7,1363.9 671.1,1360.8 672.6,1360.0 674.1,1367.7 675.5,1357.6 677.0,1354.9 678.4,1350.5 679.9,1342.3 681.4,1330.6 682.8,1327.9 684.3,1324.8 685.8,1321.5 687.2,1325.4 688.7,1313.8 690.1,1319.3 691.6,1321.0 693.1,1331.1 694.5,1342.3 696.0,1346.5 697.5,1342.1 698.9,1336.6 700.4,1330.8 701.8,1326.0 703.3,1319.8 704.8,1311.9 706.2,1318.4 707.7,1324.2 709.2,1338.8 710.6,1329.2 712.1,1330.7 713.5,1333.4 715.0,1334.8 716.5,1337.6 717.9,1339.7 719.4,1342.2 720.9,1348.5 722.3,1339.0 723.8,1333.2 725.2,1329.4 726.7,1323.6 728.2,1319.1 729.6,1317.7 731.1,1317.0 732.6,1315.1 734.0,1309.5 735.5,1300.1 736.9,1298.5 738.4,1301.3 739.9,1302.8 741.3,1303.3 742.8,1302.1 744.3,1299.2 745.7,1297.9 747.2,1296.5 748.6,1293.9 750.1,1286.9 751.6,1287.5 753.0,1287.9 754.5,1285.0 756.0,1293.6 757.4,1314.8 758.9,1332.6 760.3,1346.1 761.8,1360.7 763.3,1373.5 764.7,1372.6 766.2,1368.2 767.7,1356.5 769.1,1342.7 770.6,1343.7 772.0,1348.6 773.5,1360.2 775.0,1367.7 776.4,1359.4 777.9,1347.9 779.4,1335.0 780.8,1347.0 782.3,1351.5 783.7,1360.3 785.2,1375.6 786.7,1377.3 788.1,1376.1 789.6,1371.7 791.1,1364.9 792.5,1360.5 794.0,1353.6 795.4,1343.0 796.9,1331.6 798.4,1325.8 799.8,1319.9 801.3,1316.8 802.8,1315.3 804.2,1313.9 805.7,1313.8 807.1,1302.0 808.6,1286.6 810.1,1275.3 811.5,1273.9 813.0,1248.5 814.4,1254.1 815.9,1267.8 817.4,1269.6 818.8,1266.8 820.3,1264.8 821.8,1276.3 823.2,1282.1 824.7,1283.1 826.1,1284.6 827.6,1287.8 829.1,1292.2 830.5,1296.6 832.0,1301.8 833.5,1307.3 834.9,1311.9 836.4,1307.8 837.8,1302.5 839.3,1298.5 840.8,1310.0 842.2,1315.9 843.7,1323.7 845.2,1331.4 846.6,1337.3 848.1,1344.6 849.5,1339.8 851.0,1335.3 852.5,1331.1 853.9,1323.0 855.4,1315.7 856.9,1311.1 858.3,1308.3 859.8,1307.1 861.2,1310.2 862.7,1313.1 864.2,1337.3 865.6,1353.6 867.1,1366.7 868.6,1364.0 870.0,1361.9 871.5,1361.6 872.9,1360.1 874.4,1349.4 875.9,1332.4 877.3,1314.4 878.8,1305.2 880.3,1306.1 881.7,1308.8 883.2,1311.7 884.6,1315.6 886.1,1328.6 887.6,1352.9 889.0,1364.6 890.5,1379.2 892.0,1379.2 893.4,1374.8 894.9,1369.9 896.3,1366.7 897.8,1381.8 899.3,1410.0 900.7,1403.2 902.2,1396.5 903.7,1401.7 905.1,1404.2 906.6,1405.5 908.0,1410.0 909.5,1395.7 911.0,1387.9 912.4,1384.8 913.9,1380.5 915.4,1371.7 916.8,1364.4 918.3,1355.1 919.7,1343.3 921.2,1327.8 922.7,1300.1 924.1,1293.9 925.6,1282.2 927.1,1272.7 928.5,1264.8 930.0,1269.8 931.4,1280.6 932.9,1293.1 934.4,1318.8 935.8,1332.0 937.3,1337.7 938.8,1341.4 940.2,1352.3 941.7,1336.9 943.1,1342.3 944.6,1350.5 946.1,1363.8 947.5,1358.9 949.0,1353.6 950.5,1351.7 951.9,1350.4 953.4,1363.8 954.8,1352.2 956.3,1346.3 957.8,1337.4 959.2,1324.8 960.7,1309.6 962.2,1304.5 963.6,1302.7 965.1,1302.3 966.5,1302.3 968.0,1305.2 969.5,1292.7 970.9,1305.2 972.4,1302.2 973.9,1300.8 975.3,1297.1 976.8,1294.6 978.2,1311.5 979.7,1314.1 981.2,1315.8 982.6,1306.8 984.1,1299.0 985.6,1294.6 987.0,1307.4 988.5,1317.7 989.9,1314.1 991.4,1308.2 992.9,1302.4 994.3,1298.0 995.8,1294.6 997.2,1291.1 998.7,1286.8 1000.2,1283.9 1001.6,1275.4 1003.1,1283.1 1004.6,1282.0 1006.0,1281.2 1007.5,1302.8 1008.9,1307.2 1010.4,1311.6 1011.9,1315.3 1013.3,1318.7 1014.8,1325.4 1016.3,1321.5 1017.7,1322.3 1019.2,1323.8 1020.6,1325.4 1022.1,1320.0 1023.6,1317.7 1025.0,1316.4 1026.5,1311.9 1028.0,1316.2 1029.4,1317.7 1030.9,1313.2 1032.3,1300.1 1033.8,1288.4 1035.3,1282.9 1036.7,1280.0 1038.2,1277.1 1039.7,1273.5 1041.1,1278.1 1042.6,1292.3 1044.0,1313.4 1045.5,1338.3 1047.0,1354.7 1048.4,1365.6 1049.9,1369.6 1051.4,1361.5 1052.8,1358.1 1054.3,1358.1 1055.7,1363.8 1057.2,1358.7 1058.7,1352.3 1060.1,1359.8 1061.6,1375.4 1063.1,1396.5 1064.5,1393.4 1066.0,1382.4 1067.4,1363.7 1068.9,1362.2 1070.4,1359.6 1071.8,1357.4 1073.3,1355.1 1074.8,1350.4 1076.2,1354.2 1077.7,1356.8 1079.1,1360.2 1080.6,1361.0 1082.1,1365.0 1083.5,1368.8 1085.0,1371.5 1086.5,1371.5 1087.9,1371.5 1089.4,1366.9 1090.8,1357.8 1092.3,1344.6 1093.8,1335.9 1095.2,1327.3 1096.7,1331.3 1098.2,1337.2 1099.6,1340.8 1101.1,1338.3 1102.5,1329.2 1104.0,1333.7 1105.5,1337.6 1106.9,1338.8 1108.4,1335.0 1109.9,1341.0 1111.3,1346.8 1112.8,1352.1 1114.2,1360.8 1115.7,1369.6 1117.2,1373.5 1118.6,1373.5 1120.1,1373.5 1121.6,1360.0 1123.0,1361.8 1124.5,1364.7 1125.9,1367.7 1127.4,1381.2 1128.9,1376.2 1130.3,1371.5 1131.8,1371.5" fill="none" stroke="#000" stroke-width="2.9" stroke-linejoin="round"/>
<line x1="692" y1="1474.7" x2="717.6" y2="1474.7" stroke="#ff0000" stroke-width="2.6"/>
<text x="720.6" y="1479.3" class="lg">Actual sc-PDSI values</text>
<line x1="880" y1="1474.7" x2="905.4" y2="1474.7" stroke="#000" stroke-width="2.6"/>
<text x="908.3" y="1479.3" class="lg">Predicted sc-PDSI values</text>
<text x="585.3" y="1518.5" text-anchor="middle" class="pl">(d)</text>
</svg></body></html>
